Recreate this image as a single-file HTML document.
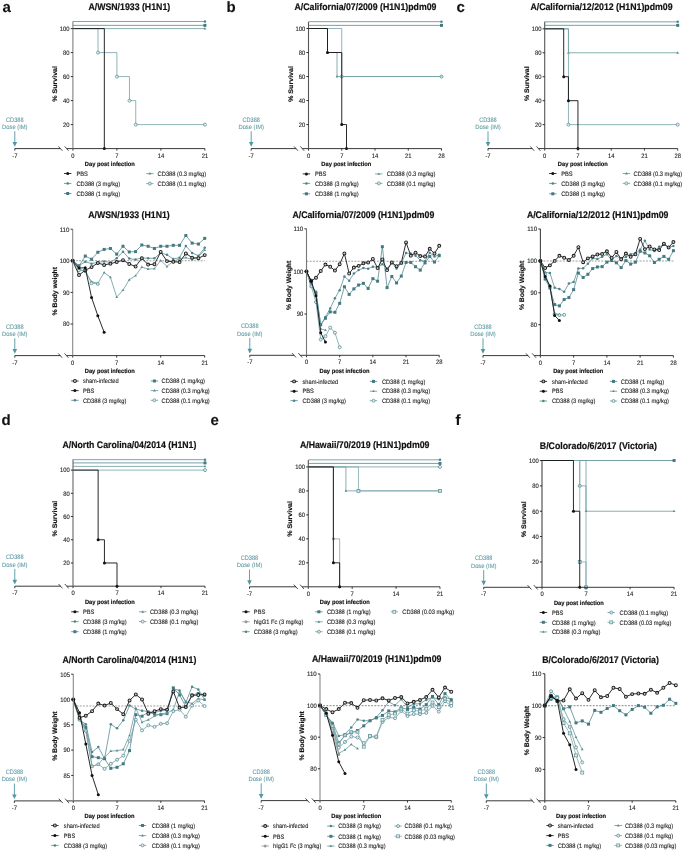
<!DOCTYPE html>
<html><head><meta charset="utf-8"><style>
html,body{margin:0;padding:0;background:#fff;}
svg{display:block;}
#w{width:685px;height:852px;overflow:hidden;will-change:transform;}
text{font-family:"Liberation Sans", sans-serif;text-rendering:geometricPrecision;}
</style></head><body><div id="w">
<svg width="685" height="852" viewBox="0 0 685 852">
<rect width="685" height="852" fill="#fff"/>
<text x="2.6" y="12.4" font-size="15" font-weight="bold" text-anchor="start" fill="#111" stroke="#111" stroke-width="0.12">a</text>
<text x="226.6" y="12.3" font-size="15" font-weight="bold" text-anchor="start" fill="#111" stroke="#111" stroke-width="0.12">b</text>
<text x="456.4" y="12.3" font-size="15" font-weight="bold" text-anchor="start" fill="#111" stroke="#111" stroke-width="0.12">c</text>
<text x="1.6" y="424.9" font-size="15" font-weight="bold" text-anchor="start" fill="#111" stroke="#111" stroke-width="0.12">d</text>
<text x="210.6" y="425.2" font-size="15" font-weight="bold" text-anchor="start" fill="#111" stroke="#111" stroke-width="0.12">e</text>
<text x="455.6" y="424.9" font-size="15" font-weight="bold" text-anchor="start" fill="#111" stroke="#111" stroke-width="0.12">f</text>
<text x="129.3" y="10.3" font-size="9.6" font-weight="bold" text-anchor="middle" fill="#111" textLength="81.8" lengthAdjust="spacingAndGlyphs" stroke="#111" stroke-width="0.2">A/WSN/1933 (H1N1)</text>
<path d="M72.9 21.52L204.91 21.52" stroke="#5b8f96" stroke-width="0.8" fill="none"/>
<circle cx="204.91" cy="21.52" r="1.25" fill="#4b848b"/>
<path d="M72.9 25.36L204.91 25.36" stroke="#568990" stroke-width="0.8" fill="none"/>
<rect x="203.41" y="23.86" width="3" height="3" fill="#437a81"/>
<path d="M72.9 28.6L204.91 28.6" stroke="#6a9aa0" stroke-width="0.8" fill="none"/>
<path d="M204.91 27.1L206.26 29.5L203.56 29.5Z" fill="#578d94"/>
<path d="M72.9 28.6L98.04 28.6L98.04 52.6L116.9 52.6L116.9 76.6L129.47 76.6L129.47 100.6L135.76 100.6L135.76 124.6L204.91 124.6" stroke="#74a2a8" stroke-width="0.8" fill="none"/>
<circle cx="98.04" cy="52.6" r="1.5" fill="#fff" fill-opacity="0.6" stroke="#5f9299" stroke-width="0.85"/>
<circle cx="116.9" cy="76.6" r="1.5" fill="#fff" fill-opacity="0.6" stroke="#5f9299" stroke-width="0.85"/>
<circle cx="129.47" cy="100.6" r="1.5" fill="#fff" fill-opacity="0.6" stroke="#5f9299" stroke-width="0.85"/>
<circle cx="135.76" cy="124.6" r="1.5" fill="#fff" fill-opacity="0.6" stroke="#5f9299" stroke-width="0.85"/>
<circle cx="204.91" cy="124.6" r="1.5" fill="#fff" fill-opacity="0.6" stroke="#5f9299" stroke-width="0.85"/>
<path d="M72.9 28.6L104.33 28.6L104.33 148.6" stroke="#111111" stroke-width="0.9" fill="none"/>
<circle cx="104.33" cy="148.6" r="1.5" fill="#111111"/>
<g stroke="#222" stroke-width="0.9" fill="none">
<path d="M14.8 148.6H60.6M66.7 148.6H204.91"/>
<path d="M58.4 146.4L62.4 150.8M64.7 146.4L68.6 150.8" stroke-width="0.8"/>
<path d="M14.8 148.6V150.6M72.9 148.6V150.6M116.9 148.6V150.6M160.9 148.6V150.6M204.91 148.6V150.6"/>
</g>
<path d="M72.9 148.6V21.5" stroke="#7d8283" stroke-width="1.1" fill="none"/>
<path d="M70.8 124.6H72.9M70.8 100.6H72.9M70.8 76.6H72.9M70.8 52.6H72.9M70.8 28.6H72.9" stroke="#222" stroke-width="0.95"/>
<text x="69.6" y="126.9" font-size="6.5" text-anchor="end" fill="#222" textLength="6.5" lengthAdjust="spacingAndGlyphs" stroke="#222" stroke-width="0.12">20</text>
<text x="69.6" y="102.9" font-size="6.5" text-anchor="end" fill="#222" textLength="6.5" lengthAdjust="spacingAndGlyphs" stroke="#222" stroke-width="0.12">40</text>
<text x="69.6" y="78.9" font-size="6.5" text-anchor="end" fill="#222" textLength="6.5" lengthAdjust="spacingAndGlyphs" stroke="#222" stroke-width="0.12">60</text>
<text x="69.6" y="54.9" font-size="6.5" text-anchor="end" fill="#222" textLength="6.5" lengthAdjust="spacingAndGlyphs" stroke="#222" stroke-width="0.12">80</text>
<text x="69.6" y="30.9" font-size="6.5" text-anchor="end" fill="#222" textLength="9.75" lengthAdjust="spacingAndGlyphs" stroke="#222" stroke-width="0.12">100</text>
<text x="14.8" y="157.6" font-size="6.5" text-anchor="middle" fill="#222" textLength="5.2" lengthAdjust="spacingAndGlyphs" stroke="#222" stroke-width="0.12">-7</text>
<text x="72.9" y="157.6" font-size="6.5" text-anchor="middle" fill="#222" textLength="3.25" lengthAdjust="spacingAndGlyphs" stroke="#222" stroke-width="0.12">0</text>
<text x="116.9" y="157.6" font-size="6.5" text-anchor="middle" fill="#222" textLength="3.25" lengthAdjust="spacingAndGlyphs" stroke="#222" stroke-width="0.12">7</text>
<text x="160.9" y="157.6" font-size="6.5" text-anchor="middle" fill="#222" textLength="6.5" lengthAdjust="spacingAndGlyphs" stroke="#222" stroke-width="0.12">14</text>
<text x="204.91" y="157.6" font-size="6.5" text-anchor="middle" fill="#222" textLength="6.5" lengthAdjust="spacingAndGlyphs" stroke="#222" stroke-width="0.12">21</text>
<text x="109.85" y="165.9" font-size="6.2" font-weight="bold" text-anchor="middle" fill="#111" textLength="50" lengthAdjust="spacingAndGlyphs" stroke="#111" stroke-width="0.16">Day post infection</text>
<text x="56.8" y="83.9" font-size="6.6" font-weight="bold" text-anchor="middle" fill="#111" textLength="35.9" lengthAdjust="spacingAndGlyphs" transform="rotate(-90 56.8 83.9)" stroke="#111" stroke-width="0.16">% Survival</text>
<text x="14.8" y="121.6" font-size="6.4" text-anchor="middle" fill="#5e9aa4" textLength="17.5" lengthAdjust="spacingAndGlyphs" stroke="#5e9aa4" stroke-width="0.08">CD388</text>
<text x="14.8" y="129" font-size="6.3" text-anchor="middle" fill="#5e9aa4" textLength="25.5" lengthAdjust="spacingAndGlyphs" stroke="#5e9aa4" stroke-width="0.08">Dose (IM)</text>
<path d="M14.8 131.3V143.6" stroke="#4f97a2" stroke-width="0.9"/>
<path d="M12.5 142.1L17.1 142.1L14.8 146.8Z" fill="#4f97a2"/>
<path d="M64 173.5H71.4" stroke="#111111" stroke-width="0.85"/>
<circle cx="67.7" cy="173.5" r="1.5" fill="#111111"/>
<text x="76.4" y="175.7" font-size="6.3" text-anchor="start" fill="#222" textLength="11.52" lengthAdjust="spacingAndGlyphs" stroke="#222" stroke-width="0.1">PBS</text>
<path d="M64 183.4H71.4" stroke="#5b8f96" stroke-width="0.85"/>
<circle cx="67.7" cy="183.4" r="1.25" fill="#4b848b"/>
<text x="76.4" y="185.6" font-size="6.3" text-anchor="start" fill="#222" textLength="43.78" lengthAdjust="spacingAndGlyphs" stroke="#222" stroke-width="0.1">CD388 (3 mg/kg)</text>
<path d="M64 193.5H71.4" stroke="#568990" stroke-width="0.85"/>
<rect x="66.2" y="192" width="3" height="3" fill="#437a81"/>
<text x="76.4" y="195.7" font-size="6.3" text-anchor="start" fill="#222" textLength="43.78" lengthAdjust="spacingAndGlyphs" stroke="#222" stroke-width="0.1">CD388 (1 mg/kg)</text>
<path d="M146.2 173.6H153.6" stroke="#6a9aa0" stroke-width="0.85"/>
<path d="M149.9 172.1L151.25 174.5L148.55 174.5Z" fill="#578d94"/>
<text x="157.6" y="175.8" font-size="6.3" text-anchor="start" fill="#222" textLength="48.58" lengthAdjust="spacingAndGlyphs" stroke="#222" stroke-width="0.1">CD388 (0.3 mg/kg)</text>
<path d="M146.2 183.6H153.6" stroke="#74a2a8" stroke-width="0.85"/>
<circle cx="149.9" cy="183.6" r="1.5" fill="#fff" fill-opacity="0.6" stroke="#5f9299" stroke-width="0.85"/>
<text x="157.6" y="185.8" font-size="6.3" text-anchor="start" fill="#222" textLength="48.58" lengthAdjust="spacingAndGlyphs" stroke="#222" stroke-width="0.1">CD388 (0.1 mg/kg)</text>
<text x="365.45" y="9.9" font-size="9.6" font-weight="bold" text-anchor="middle" fill="#111" textLength="141.9" lengthAdjust="spacingAndGlyphs" stroke="#111" stroke-width="0.2">A/California/07/2009 (H1N1)pdm09</text>
<path d="M308.5 21.65L441.5 21.65" stroke="#5b8f96" stroke-width="0.8" fill="none"/>
<circle cx="441.5" cy="21.65" r="1.25" fill="#4b848b"/>
<path d="M308.5 25.38L441.5 25.38" stroke="#568990" stroke-width="0.8" fill="none"/>
<rect x="440" y="23.88" width="3" height="3" fill="#437a81"/>
<path d="M308.5 28.5L327.5 28.5L327.5 52.52L337 52.52L337 76.54L441.5 76.54" stroke="#6a9aa0" stroke-width="0.8" fill="none"/>
<path d="M327.5 51.02L328.85 53.42L326.15 53.42Z" fill="#578d94"/>
<path d="M337 75.04L338.35 77.44L335.65 77.44Z" fill="#578d94"/>
<path d="M441.5 75.04L442.85 77.44L440.15 77.44Z" fill="#578d94"/>
<path d="M308.5 28.5L341.75 28.5L341.75 76.54L441.5 76.54" stroke="#74a2a8" stroke-width="0.8" fill="none"/>
<circle cx="341.75" cy="76.54" r="1.5" fill="#fff" fill-opacity="0.6" stroke="#5f9299" stroke-width="0.85"/>
<circle cx="441.5" cy="76.54" r="1.5" fill="#fff" fill-opacity="0.6" stroke="#5f9299" stroke-width="0.85"/>
<path d="M308.5 28.5L327.5 28.5L327.5 52.52L341.75 52.52L341.75 124.58L346.5 124.58L346.5 148.6" stroke="#111111" stroke-width="0.9" fill="none"/>
<circle cx="327.5" cy="52.52" r="1.5" fill="#111111"/>
<circle cx="341.75" cy="124.58" r="1.5" fill="#111111"/>
<circle cx="346.5" cy="148.6" r="1.5" fill="#111111"/>
<g stroke="#222" stroke-width="0.9" fill="none">
<path d="M251.2 148.6H296.2M302.3 148.6H441.5"/>
<path d="M294 146.4L298 150.8M300.3 146.4L304.2 150.8" stroke-width="0.8"/>
<path d="M251.2 148.6V150.6M308.5 148.6V150.6M341.75 148.6V150.6M375 148.6V150.6M408.25 148.6V150.6M441.5 148.6V150.6"/>
</g>
<path d="M308.5 148.6V21.9" stroke="#555" stroke-width="1.1" fill="none"/>
<path d="M306.4 124.58H308.5M306.4 100.56H308.5M306.4 76.54H308.5M306.4 52.52H308.5M306.4 28.5H308.5" stroke="#222" stroke-width="0.95"/>
<text x="305.2" y="126.88" font-size="6.5" text-anchor="end" fill="#222" textLength="6.5" lengthAdjust="spacingAndGlyphs" stroke="#222" stroke-width="0.12">20</text>
<text x="305.2" y="102.86" font-size="6.5" text-anchor="end" fill="#222" textLength="6.5" lengthAdjust="spacingAndGlyphs" stroke="#222" stroke-width="0.12">40</text>
<text x="305.2" y="78.84" font-size="6.5" text-anchor="end" fill="#222" textLength="6.5" lengthAdjust="spacingAndGlyphs" stroke="#222" stroke-width="0.12">60</text>
<text x="305.2" y="54.82" font-size="6.5" text-anchor="end" fill="#222" textLength="6.5" lengthAdjust="spacingAndGlyphs" stroke="#222" stroke-width="0.12">80</text>
<text x="305.2" y="30.8" font-size="6.5" text-anchor="end" fill="#222" textLength="9.75" lengthAdjust="spacingAndGlyphs" stroke="#222" stroke-width="0.12">100</text>
<text x="251.2" y="157.6" font-size="6.5" text-anchor="middle" fill="#222" textLength="5.2" lengthAdjust="spacingAndGlyphs" stroke="#222" stroke-width="0.12">-7</text>
<text x="308.5" y="157.6" font-size="6.5" text-anchor="middle" fill="#222" textLength="3.25" lengthAdjust="spacingAndGlyphs" stroke="#222" stroke-width="0.12">0</text>
<text x="341.75" y="157.6" font-size="6.5" text-anchor="middle" fill="#222" textLength="3.25" lengthAdjust="spacingAndGlyphs" stroke="#222" stroke-width="0.12">7</text>
<text x="375" y="157.6" font-size="6.5" text-anchor="middle" fill="#222" textLength="6.5" lengthAdjust="spacingAndGlyphs" stroke="#222" stroke-width="0.12">14</text>
<text x="408.25" y="157.6" font-size="6.5" text-anchor="middle" fill="#222" textLength="6.5" lengthAdjust="spacingAndGlyphs" stroke="#222" stroke-width="0.12">21</text>
<text x="441.5" y="157.6" font-size="6.5" text-anchor="middle" fill="#222" textLength="6.5" lengthAdjust="spacingAndGlyphs" stroke="#222" stroke-width="0.12">28</text>
<text x="346.35" y="165.9" font-size="6.2" font-weight="bold" text-anchor="middle" fill="#111" textLength="50" lengthAdjust="spacingAndGlyphs" stroke="#111" stroke-width="0.16">Day post infection</text>
<text x="292.5" y="84" font-size="6.6" font-weight="bold" text-anchor="middle" fill="#111" textLength="36.1" lengthAdjust="spacingAndGlyphs" transform="rotate(-90 292.5 84)" stroke="#111" stroke-width="0.16">% Survival</text>
<text x="251.2" y="121.6" font-size="6.4" text-anchor="middle" fill="#5e9aa4" textLength="17.5" lengthAdjust="spacingAndGlyphs" stroke="#5e9aa4" stroke-width="0.08">CD388</text>
<text x="251.2" y="129" font-size="6.3" text-anchor="middle" fill="#5e9aa4" textLength="25.5" lengthAdjust="spacingAndGlyphs" stroke="#5e9aa4" stroke-width="0.08">Dose (IM)</text>
<path d="M251.2 131.3V143.6" stroke="#4f97a2" stroke-width="0.9"/>
<path d="M248.9 142.1L253.5 142.1L251.2 146.8Z" fill="#4f97a2"/>
<path d="M302.7 173.9H310.1" stroke="#111111" stroke-width="0.85"/>
<circle cx="306.4" cy="173.9" r="1.5" fill="#111111"/>
<text x="314.9" y="176.1" font-size="6.3" text-anchor="start" fill="#222" textLength="11.52" lengthAdjust="spacingAndGlyphs" stroke="#222" stroke-width="0.1">PBS</text>
<path d="M302.7 183.4H310.1" stroke="#5b8f96" stroke-width="0.85"/>
<circle cx="306.4" cy="183.4" r="1.25" fill="#4b848b"/>
<text x="314.9" y="185.6" font-size="6.3" text-anchor="start" fill="#222" textLength="43.78" lengthAdjust="spacingAndGlyphs" stroke="#222" stroke-width="0.1">CD388 (3 mg/kg)</text>
<path d="M302.7 193.8H310.1" stroke="#568990" stroke-width="0.85"/>
<rect x="304.9" y="192.3" width="3" height="3" fill="#437a81"/>
<text x="314.9" y="196" font-size="6.3" text-anchor="start" fill="#222" textLength="43.78" lengthAdjust="spacingAndGlyphs" stroke="#222" stroke-width="0.1">CD388 (1 mg/kg)</text>
<path d="M375.1 173.9H382.5" stroke="#6a9aa0" stroke-width="0.85"/>
<path d="M378.8 172.4L380.15 174.8L377.45 174.8Z" fill="#578d94"/>
<text x="386.8" y="176.1" font-size="6.3" text-anchor="start" fill="#222" textLength="48.58" lengthAdjust="spacingAndGlyphs" stroke="#222" stroke-width="0.1">CD388 (0.3 mg/kg)</text>
<path d="M375.1 183.4H382.5" stroke="#74a2a8" stroke-width="0.85"/>
<circle cx="378.8" cy="183.4" r="1.5" fill="#fff" fill-opacity="0.6" stroke="#5f9299" stroke-width="0.85"/>
<text x="386.8" y="185.6" font-size="6.3" text-anchor="start" fill="#222" textLength="48.58" lengthAdjust="spacingAndGlyphs" stroke="#222" stroke-width="0.1">CD388 (0.1 mg/kg)</text>
<text x="601.5" y="9.9" font-size="9.6" font-weight="bold" text-anchor="middle" fill="#111" textLength="142.2" lengthAdjust="spacingAndGlyphs" stroke="#111" stroke-width="0.2">A/California/12/2012 (H1N1)pdm09</text>
<path d="M544.7 21.85L677.7 21.85" stroke="#5b8f96" stroke-width="0.8" fill="none"/>
<circle cx="677.7" cy="21.85" r="1.25" fill="#4b848b"/>
<path d="M544.7 25.33L677.7 25.33" stroke="#568990" stroke-width="0.8" fill="none"/>
<rect x="676.2" y="23.83" width="3" height="3" fill="#437a81"/>
<path d="M544.7 28.8L568.45 28.8L568.45 52.76L677.7 52.76" stroke="#6a9aa0" stroke-width="0.8" fill="none"/>
<path d="M568.45 51.26L569.8 53.66L567.1 53.66Z" fill="#578d94"/>
<path d="M677.7 51.26L679.05 53.66L676.35 53.66Z" fill="#578d94"/>
<path d="M544.7 28.8L568.45 28.8L568.45 124.64L677.7 124.64" stroke="#74a2a8" stroke-width="0.8" fill="none"/>
<circle cx="568.45" cy="124.64" r="1.5" fill="#fff" fill-opacity="0.6" stroke="#5f9299" stroke-width="0.85"/>
<circle cx="677.7" cy="124.64" r="1.5" fill="#fff" fill-opacity="0.6" stroke="#5f9299" stroke-width="0.85"/>
<path d="M544.7 28.8L563.7 28.8L563.7 76.72L568.45 76.72L568.45 100.68L577.95 100.68L577.95 148.6" stroke="#111111" stroke-width="0.9" fill="none"/>
<circle cx="563.7" cy="76.72" r="1.5" fill="#111111"/>
<circle cx="568.45" cy="100.68" r="1.5" fill="#111111"/>
<circle cx="577.95" cy="148.6" r="1.5" fill="#111111"/>
<g stroke="#222" stroke-width="0.9" fill="none">
<path d="M488 148.6H532.4M538.5 148.6H677.7"/>
<path d="M530.2 146.4L534.2 150.8M536.5 146.4L540.4 150.8" stroke-width="0.8"/>
<path d="M488 148.6V150.6M544.7 148.6V150.6M577.95 148.6V150.6M611.2 148.6V150.6M644.45 148.6V150.6M677.7 148.6V150.6"/>
</g>
<path d="M544.7 148.6V21.8" stroke="#555" stroke-width="1.1" fill="none"/>
<path d="M542.6 124.64H544.7M542.6 100.68H544.7M542.6 76.72H544.7M542.6 52.76H544.7M542.6 28.8H544.7" stroke="#222" stroke-width="0.95"/>
<text x="541.4" y="126.94" font-size="6.5" text-anchor="end" fill="#222" textLength="6.5" lengthAdjust="spacingAndGlyphs" stroke="#222" stroke-width="0.12">20</text>
<text x="541.4" y="102.98" font-size="6.5" text-anchor="end" fill="#222" textLength="6.5" lengthAdjust="spacingAndGlyphs" stroke="#222" stroke-width="0.12">40</text>
<text x="541.4" y="79.02" font-size="6.5" text-anchor="end" fill="#222" textLength="6.5" lengthAdjust="spacingAndGlyphs" stroke="#222" stroke-width="0.12">60</text>
<text x="541.4" y="55.06" font-size="6.5" text-anchor="end" fill="#222" textLength="6.5" lengthAdjust="spacingAndGlyphs" stroke="#222" stroke-width="0.12">80</text>
<text x="541.4" y="31.1" font-size="6.5" text-anchor="end" fill="#222" textLength="9.75" lengthAdjust="spacingAndGlyphs" stroke="#222" stroke-width="0.12">100</text>
<text x="488" y="157.6" font-size="6.5" text-anchor="middle" fill="#222" textLength="5.2" lengthAdjust="spacingAndGlyphs" stroke="#222" stroke-width="0.12">-7</text>
<text x="544.7" y="157.6" font-size="6.5" text-anchor="middle" fill="#222" textLength="3.25" lengthAdjust="spacingAndGlyphs" stroke="#222" stroke-width="0.12">0</text>
<text x="577.95" y="157.6" font-size="6.5" text-anchor="middle" fill="#222" textLength="3.25" lengthAdjust="spacingAndGlyphs" stroke="#222" stroke-width="0.12">7</text>
<text x="611.2" y="157.6" font-size="6.5" text-anchor="middle" fill="#222" textLength="6.5" lengthAdjust="spacingAndGlyphs" stroke="#222" stroke-width="0.12">14</text>
<text x="644.45" y="157.6" font-size="6.5" text-anchor="middle" fill="#222" textLength="6.5" lengthAdjust="spacingAndGlyphs" stroke="#222" stroke-width="0.12">21</text>
<text x="677.7" y="157.6" font-size="6.5" text-anchor="middle" fill="#222" textLength="6.5" lengthAdjust="spacingAndGlyphs" stroke="#222" stroke-width="0.12">28</text>
<text x="582.85" y="165.9" font-size="6.2" font-weight="bold" text-anchor="middle" fill="#111" textLength="50" lengthAdjust="spacingAndGlyphs" stroke="#111" stroke-width="0.16">Day post infection</text>
<text x="529" y="83.7" font-size="6.6" font-weight="bold" text-anchor="middle" fill="#111" textLength="34.5" lengthAdjust="spacingAndGlyphs" transform="rotate(-90 529 83.7)" stroke="#111" stroke-width="0.16">% Survival</text>
<text x="488" y="121.6" font-size="6.4" text-anchor="middle" fill="#5e9aa4" textLength="17.5" lengthAdjust="spacingAndGlyphs" stroke="#5e9aa4" stroke-width="0.08">CD388</text>
<text x="488" y="129" font-size="6.3" text-anchor="middle" fill="#5e9aa4" textLength="25.5" lengthAdjust="spacingAndGlyphs" stroke="#5e9aa4" stroke-width="0.08">Dose (IM)</text>
<path d="M488 131.3V143.6" stroke="#4f97a2" stroke-width="0.9"/>
<path d="M485.7 142.1L490.3 142.1L488 146.8Z" fill="#4f97a2"/>
<path d="M549.1 173.5H556.5" stroke="#111111" stroke-width="0.85"/>
<circle cx="552.8" cy="173.5" r="1.5" fill="#111111"/>
<text x="561.2" y="175.7" font-size="6.3" text-anchor="start" fill="#222" textLength="11.52" lengthAdjust="spacingAndGlyphs" stroke="#222" stroke-width="0.1">PBS</text>
<path d="M549.1 183.4H556.5" stroke="#5b8f96" stroke-width="0.85"/>
<circle cx="552.8" cy="183.4" r="1.25" fill="#4b848b"/>
<text x="561.2" y="185.6" font-size="6.3" text-anchor="start" fill="#222" textLength="43.78" lengthAdjust="spacingAndGlyphs" stroke="#222" stroke-width="0.1">CD388 (3 mg/kg)</text>
<path d="M549.1 193.8H556.5" stroke="#568990" stroke-width="0.85"/>
<rect x="551.3" y="192.3" width="3" height="3" fill="#437a81"/>
<text x="561.2" y="196" font-size="6.3" text-anchor="start" fill="#222" textLength="43.78" lengthAdjust="spacingAndGlyphs" stroke="#222" stroke-width="0.1">CD388 (1 mg/kg)</text>
<path d="M622.7 173.5H630.1" stroke="#6a9aa0" stroke-width="0.85"/>
<path d="M626.4 172L627.75 174.4L625.05 174.4Z" fill="#578d94"/>
<text x="633.6" y="175.7" font-size="6.3" text-anchor="start" fill="#222" textLength="48.58" lengthAdjust="spacingAndGlyphs" stroke="#222" stroke-width="0.1">CD388 (0.3 mg/kg)</text>
<path d="M622.7 183.4H630.1" stroke="#74a2a8" stroke-width="0.85"/>
<circle cx="626.4" cy="183.4" r="1.5" fill="#fff" fill-opacity="0.6" stroke="#5f9299" stroke-width="0.85"/>
<text x="633.6" y="185.6" font-size="6.3" text-anchor="start" fill="#222" textLength="48.58" lengthAdjust="spacingAndGlyphs" stroke="#222" stroke-width="0.1">CD388 (0.1 mg/kg)</text>
<text x="129" y="218" font-size="9.6" font-weight="bold" text-anchor="middle" fill="#111" textLength="81.6" lengthAdjust="spacingAndGlyphs" stroke="#111" stroke-width="0.2">A/WSN/1933 (H1N1)</text>
<path d="M72.7 260.8H204.71" stroke="#a29c9c" stroke-width="1.05" stroke-dasharray="1.9 1.3" fill="none"/>
<path d="M72.7 260.8L78.99 265.54L85.27 261.75L91.56 263.64L97.84 262.38L104.13 261.43L110.42 262.38L116.7 258.27L122.99 251.64L129.27 258.59L135.56 259.54L141.85 257.96L148.13 258.27L154.42 258.27L160.7 252.9L166.99 254.8L173.28 258.9L179.56 257.64L185.85 245.95L192.13 252.9L198.42 255.74L204.71 247.84" stroke="#5b8f96" stroke-width="0.8" fill="none" stroke-linejoin="round"/>
<circle cx="72.7" cy="260.8" r="1.25" fill="#4b848b"/>
<circle cx="78.99" cy="265.54" r="1.25" fill="#4b848b"/>
<circle cx="85.27" cy="261.75" r="1.25" fill="#4b848b"/>
<circle cx="91.56" cy="263.64" r="1.25" fill="#4b848b"/>
<circle cx="97.84" cy="262.38" r="1.25" fill="#4b848b"/>
<circle cx="104.13" cy="261.43" r="1.25" fill="#4b848b"/>
<circle cx="110.42" cy="262.38" r="1.25" fill="#4b848b"/>
<circle cx="116.7" cy="258.27" r="1.25" fill="#4b848b"/>
<circle cx="122.99" cy="251.64" r="1.25" fill="#4b848b"/>
<circle cx="129.27" cy="258.59" r="1.25" fill="#4b848b"/>
<circle cx="135.56" cy="259.54" r="1.25" fill="#4b848b"/>
<circle cx="141.85" cy="257.96" r="1.25" fill="#4b848b"/>
<circle cx="148.13" cy="258.27" r="1.25" fill="#4b848b"/>
<circle cx="154.42" cy="258.27" r="1.25" fill="#4b848b"/>
<circle cx="160.7" cy="252.9" r="1.25" fill="#4b848b"/>
<circle cx="166.99" cy="254.8" r="1.25" fill="#4b848b"/>
<circle cx="173.28" cy="258.9" r="1.25" fill="#4b848b"/>
<circle cx="179.56" cy="257.64" r="1.25" fill="#4b848b"/>
<circle cx="185.85" cy="245.95" r="1.25" fill="#4b848b"/>
<circle cx="192.13" cy="252.9" r="1.25" fill="#4b848b"/>
<circle cx="198.42" cy="255.74" r="1.25" fill="#4b848b"/>
<circle cx="204.71" cy="247.84" r="1.25" fill="#4b848b"/>
<path d="M72.7 260.8L78.99 266.17L85.27 256.06L91.56 259.22L97.84 252.27L104.13 249.42L110.42 248.48L116.7 254.16L122.99 246.26L129.27 251.95L135.56 251.64L141.85 245L148.13 246.26L154.42 248.48L160.7 246.26L166.99 246.26L173.28 245.32L179.56 245.32L185.85 235.52L192.13 243.1L198.42 244.05L204.71 238.36" stroke="#568990" stroke-width="0.8" fill="none" stroke-linejoin="round"/>
<rect x="71.2" y="259.3" width="3" height="3" fill="#437a81"/>
<rect x="77.49" y="264.67" width="3" height="3" fill="#437a81"/>
<rect x="83.77" y="254.56" width="3" height="3" fill="#437a81"/>
<rect x="90.06" y="257.72" width="3" height="3" fill="#437a81"/>
<rect x="96.34" y="250.77" width="3" height="3" fill="#437a81"/>
<rect x="102.63" y="247.92" width="3" height="3" fill="#437a81"/>
<rect x="108.92" y="246.98" width="3" height="3" fill="#437a81"/>
<rect x="115.2" y="252.66" width="3" height="3" fill="#437a81"/>
<rect x="121.49" y="244.76" width="3" height="3" fill="#437a81"/>
<rect x="127.77" y="250.45" width="3" height="3" fill="#437a81"/>
<rect x="134.06" y="250.14" width="3" height="3" fill="#437a81"/>
<rect x="140.35" y="243.5" width="3" height="3" fill="#437a81"/>
<rect x="146.63" y="244.76" width="3" height="3" fill="#437a81"/>
<rect x="152.92" y="246.98" width="3" height="3" fill="#437a81"/>
<rect x="159.2" y="244.76" width="3" height="3" fill="#437a81"/>
<rect x="165.49" y="244.76" width="3" height="3" fill="#437a81"/>
<rect x="171.78" y="243.82" width="3" height="3" fill="#437a81"/>
<rect x="178.06" y="243.82" width="3" height="3" fill="#437a81"/>
<rect x="184.35" y="234.02" width="3" height="3" fill="#437a81"/>
<rect x="190.63" y="241.6" width="3" height="3" fill="#437a81"/>
<rect x="196.92" y="242.55" width="3" height="3" fill="#437a81"/>
<rect x="203.21" y="236.86" width="3" height="3" fill="#437a81"/>
<path d="M72.7 260.8L78.99 268.7L85.27 272.18L91.56 281.66L97.84 283.24L104.13 272.49L110.42 277.23L116.7 297.14L122.99 290.19L129.27 279.76L135.56 275.65L141.85 267.12L148.13 269.02L154.42 268.7L160.7 260.48L166.99 266.49L173.28 261.12L179.56 258.9L185.85 257.64L192.13 259.54L198.42 256.69L204.71 250.06" stroke="#6a9aa0" stroke-width="0.8" fill="none" stroke-linejoin="round"/>
<path d="M72.7 259.3L74.05 261.7L71.35 261.7Z" fill="#578d94"/>
<path d="M78.99 267.2L80.34 269.6L77.64 269.6Z" fill="#578d94"/>
<path d="M85.27 270.68L86.62 273.08L83.92 273.08Z" fill="#578d94"/>
<path d="M91.56 280.16L92.91 282.56L90.21 282.56Z" fill="#578d94"/>
<path d="M97.84 281.74L99.19 284.14L96.49 284.14Z" fill="#578d94"/>
<path d="M104.13 270.99L105.48 273.39L102.78 273.39Z" fill="#578d94"/>
<path d="M110.42 275.73L111.77 278.13L109.07 278.13Z" fill="#578d94"/>
<path d="M116.7 295.64L118.05 298.04L115.35 298.04Z" fill="#578d94"/>
<path d="M122.99 288.69L124.34 291.09L121.64 291.09Z" fill="#578d94"/>
<path d="M129.27 278.26L130.62 280.66L127.92 280.66Z" fill="#578d94"/>
<path d="M135.56 274.15L136.91 276.55L134.21 276.55Z" fill="#578d94"/>
<path d="M141.85 265.62L143.2 268.02L140.5 268.02Z" fill="#578d94"/>
<path d="M148.13 267.52L149.48 269.92L146.78 269.92Z" fill="#578d94"/>
<path d="M154.42 267.2L155.77 269.6L153.07 269.6Z" fill="#578d94"/>
<path d="M160.7 258.98L162.05 261.38L159.35 261.38Z" fill="#578d94"/>
<path d="M166.99 264.99L168.34 267.39L165.64 267.39Z" fill="#578d94"/>
<path d="M173.28 259.62L174.63 262.02L171.93 262.02Z" fill="#578d94"/>
<path d="M179.56 257.4L180.91 259.8L178.21 259.8Z" fill="#578d94"/>
<path d="M185.85 256.14L187.2 258.54L184.5 258.54Z" fill="#578d94"/>
<path d="M192.13 258.04L193.48 260.44L190.78 260.44Z" fill="#578d94"/>
<path d="M198.42 255.19L199.77 257.59L197.07 257.59Z" fill="#578d94"/>
<path d="M204.71 248.56L206.06 250.96L203.36 250.96Z" fill="#578d94"/>
<path d="M72.7 260.8L78.99 270.28L85.27 270.28L91.56 283.24L97.84 283.87" stroke="#74a2a8" stroke-width="0.8" fill="none" stroke-linejoin="round"/>
<circle cx="72.7" cy="260.8" r="1.5" fill="#fff" fill-opacity="0.6" stroke="#5f9299" stroke-width="0.85"/>
<circle cx="78.99" cy="270.28" r="1.5" fill="#fff" fill-opacity="0.6" stroke="#5f9299" stroke-width="0.85"/>
<circle cx="85.27" cy="270.28" r="1.5" fill="#fff" fill-opacity="0.6" stroke="#5f9299" stroke-width="0.85"/>
<circle cx="91.56" cy="283.24" r="1.5" fill="#fff" fill-opacity="0.6" stroke="#5f9299" stroke-width="0.85"/>
<circle cx="97.84" cy="283.87" r="1.5" fill="#fff" fill-opacity="0.6" stroke="#5f9299" stroke-width="0.85"/>
<path d="M72.7 260.8L78.99 275.02L85.27 270.28L91.56 267.12L97.84 263.01L104.13 264.91L110.42 263.64L116.7 262.06L122.99 260.17L129.27 263.96L135.56 266.49L141.85 258.27L148.13 264.59L154.42 264.28L160.7 251.95L166.99 261.12L173.28 261.75L179.56 262.06L185.85 253.53L192.13 257.64L198.42 258.27L204.71 255.11" stroke="#222222" stroke-width="0.95" fill="none" stroke-linejoin="round"/>
<circle cx="72.7" cy="260.8" r="1.45" fill="#fff" fill-opacity="0.6" stroke="#222222" stroke-width="1.05"/>
<circle cx="78.99" cy="275.02" r="1.45" fill="#fff" fill-opacity="0.6" stroke="#222222" stroke-width="1.05"/>
<circle cx="85.27" cy="270.28" r="1.45" fill="#fff" fill-opacity="0.6" stroke="#222222" stroke-width="1.05"/>
<circle cx="91.56" cy="267.12" r="1.45" fill="#fff" fill-opacity="0.6" stroke="#222222" stroke-width="1.05"/>
<circle cx="97.84" cy="263.01" r="1.45" fill="#fff" fill-opacity="0.6" stroke="#222222" stroke-width="1.05"/>
<circle cx="104.13" cy="264.91" r="1.45" fill="#fff" fill-opacity="0.6" stroke="#222222" stroke-width="1.05"/>
<circle cx="110.42" cy="263.64" r="1.45" fill="#fff" fill-opacity="0.6" stroke="#222222" stroke-width="1.05"/>
<circle cx="116.7" cy="262.06" r="1.45" fill="#fff" fill-opacity="0.6" stroke="#222222" stroke-width="1.05"/>
<circle cx="122.99" cy="260.17" r="1.45" fill="#fff" fill-opacity="0.6" stroke="#222222" stroke-width="1.05"/>
<circle cx="129.27" cy="263.96" r="1.45" fill="#fff" fill-opacity="0.6" stroke="#222222" stroke-width="1.05"/>
<circle cx="135.56" cy="266.49" r="1.45" fill="#fff" fill-opacity="0.6" stroke="#222222" stroke-width="1.05"/>
<circle cx="141.85" cy="258.27" r="1.45" fill="#fff" fill-opacity="0.6" stroke="#222222" stroke-width="1.05"/>
<circle cx="148.13" cy="264.59" r="1.45" fill="#fff" fill-opacity="0.6" stroke="#222222" stroke-width="1.05"/>
<circle cx="154.42" cy="264.28" r="1.45" fill="#fff" fill-opacity="0.6" stroke="#222222" stroke-width="1.05"/>
<circle cx="160.7" cy="251.95" r="1.45" fill="#fff" fill-opacity="0.6" stroke="#222222" stroke-width="1.05"/>
<circle cx="166.99" cy="261.12" r="1.45" fill="#fff" fill-opacity="0.6" stroke="#222222" stroke-width="1.05"/>
<circle cx="173.28" cy="261.75" r="1.45" fill="#fff" fill-opacity="0.6" stroke="#222222" stroke-width="1.05"/>
<circle cx="179.56" cy="262.06" r="1.45" fill="#fff" fill-opacity="0.6" stroke="#222222" stroke-width="1.05"/>
<circle cx="185.85" cy="253.53" r="1.45" fill="#fff" fill-opacity="0.6" stroke="#222222" stroke-width="1.05"/>
<circle cx="192.13" cy="257.64" r="1.45" fill="#fff" fill-opacity="0.6" stroke="#222222" stroke-width="1.05"/>
<circle cx="198.42" cy="258.27" r="1.45" fill="#fff" fill-opacity="0.6" stroke="#222222" stroke-width="1.05"/>
<circle cx="204.71" cy="255.11" r="1.45" fill="#fff" fill-opacity="0.6" stroke="#222222" stroke-width="1.05"/>
<path d="M72.7 260.8L78.99 268.07L85.27 267.75L91.56 297.46L97.84 315.78L104.13 332.22" stroke="#111111" stroke-width="0.9" fill="none" stroke-linejoin="round"/>
<circle cx="72.7" cy="260.8" r="1.5" fill="#111111"/>
<circle cx="78.99" cy="268.07" r="1.5" fill="#111111"/>
<circle cx="85.27" cy="267.75" r="1.5" fill="#111111"/>
<circle cx="91.56" cy="297.46" r="1.5" fill="#111111"/>
<circle cx="97.84" cy="315.78" r="1.5" fill="#111111"/>
<circle cx="104.13" cy="332.22" r="1.5" fill="#111111"/>
<g stroke="#222" stroke-width="0.9" fill="none">
<path d="M14.8 355.6H60.4M66.5 355.6H204.71"/>
<path d="M58.2 353.4L62.2 357.8M64.5 353.4L68.4 357.8" stroke-width="0.8"/>
<path d="M14.8 355.6V357.6M72.7 355.6V357.6M116.7 355.6V357.6M160.7 355.6V357.6M204.71 355.6V357.6"/>
</g>
<path d="M72.7 355.6V229.2" stroke="#888" stroke-width="1.1" fill="none"/>
<path d="M70.6 324H72.7M70.6 292.4H72.7M70.6 260.8H72.7M70.6 229.2H72.7" stroke="#222" stroke-width="0.95"/>
<text x="69.4" y="326.3" font-size="6.5" text-anchor="end" fill="#222" textLength="6.5" lengthAdjust="spacingAndGlyphs" stroke="#222" stroke-width="0.12">80</text>
<text x="69.4" y="294.7" font-size="6.5" text-anchor="end" fill="#222" textLength="6.5" lengthAdjust="spacingAndGlyphs" stroke="#222" stroke-width="0.12">90</text>
<text x="69.4" y="263.1" font-size="6.5" text-anchor="end" fill="#222" textLength="9.75" lengthAdjust="spacingAndGlyphs" stroke="#222" stroke-width="0.12">100</text>
<text x="69.4" y="231.5" font-size="6.5" text-anchor="end" fill="#222" textLength="9.75" lengthAdjust="spacingAndGlyphs" stroke="#222" stroke-width="0.12">110</text>
<text x="14.8" y="364.6" font-size="6.5" text-anchor="middle" fill="#222" textLength="5.2" lengthAdjust="spacingAndGlyphs" stroke="#222" stroke-width="0.12">-7</text>
<text x="72.7" y="364.6" font-size="6.5" text-anchor="middle" fill="#222" textLength="3.25" lengthAdjust="spacingAndGlyphs" stroke="#222" stroke-width="0.12">0</text>
<text x="116.7" y="364.6" font-size="6.5" text-anchor="middle" fill="#222" textLength="3.25" lengthAdjust="spacingAndGlyphs" stroke="#222" stroke-width="0.12">7</text>
<text x="160.7" y="364.6" font-size="6.5" text-anchor="middle" fill="#222" textLength="6.5" lengthAdjust="spacingAndGlyphs" stroke="#222" stroke-width="0.12">14</text>
<text x="204.71" y="364.6" font-size="6.5" text-anchor="middle" fill="#222" textLength="6.5" lengthAdjust="spacingAndGlyphs" stroke="#222" stroke-width="0.12">21</text>
<text x="109.75" y="372.9" font-size="6.2" font-weight="bold" text-anchor="middle" fill="#111" textLength="50" lengthAdjust="spacingAndGlyphs" stroke="#111" stroke-width="0.16">Day post infection</text>
<text x="57" y="291.2" font-size="6.6" font-weight="bold" text-anchor="middle" fill="#111" textLength="48.5" lengthAdjust="spacingAndGlyphs" transform="rotate(-90 57 291.2)" stroke="#111" stroke-width="0.16">% Body weight</text>
<text x="14.8" y="328.6" font-size="6.4" text-anchor="middle" fill="#5e9aa4" textLength="17.5" lengthAdjust="spacingAndGlyphs" stroke="#5e9aa4" stroke-width="0.08">CD388</text>
<text x="14.8" y="336" font-size="6.3" text-anchor="middle" fill="#5e9aa4" textLength="25.5" lengthAdjust="spacingAndGlyphs" stroke="#5e9aa4" stroke-width="0.08">Dose (IM)</text>
<path d="M14.8 338.3V350.6" stroke="#4f97a2" stroke-width="0.9"/>
<path d="M12.5 349.1L17.1 349.1L14.8 353.8Z" fill="#4f97a2"/>
<path d="M71.2 381H78.6" stroke="#222222" stroke-width="0.85"/>
<circle cx="74.9" cy="381" r="1.45" fill="#fff" fill-opacity="0.6" stroke="#222222" stroke-width="1.05"/>
<text x="82.9" y="383.2" font-size="6.3" text-anchor="start" fill="#222" textLength="35.8" lengthAdjust="spacingAndGlyphs" stroke="#222" stroke-width="0.1">sham-infected</text>
<path d="M71.2 390.6H78.6" stroke="#111111" stroke-width="0.85"/>
<circle cx="74.9" cy="390.6" r="1.5" fill="#111111"/>
<text x="82.9" y="392.8" font-size="6.3" text-anchor="start" fill="#222" textLength="11.42" lengthAdjust="spacingAndGlyphs" stroke="#222" stroke-width="0.1">PBS</text>
<path d="M71.2 400.3H78.6" stroke="#5b8f96" stroke-width="0.85"/>
<circle cx="74.9" cy="400.3" r="1.25" fill="#4b848b"/>
<text x="82.9" y="402.5" font-size="6.3" text-anchor="start" fill="#222" textLength="43.4" lengthAdjust="spacingAndGlyphs" stroke="#222" stroke-width="0.1">CD388 (3 mg/kg)</text>
<path d="M150.7 381H158.1" stroke="#568990" stroke-width="0.85"/>
<rect x="152.9" y="379.5" width="3" height="3" fill="#437a81"/>
<text x="161.6" y="383.2" font-size="6.3" text-anchor="start" fill="#222" textLength="43.4" lengthAdjust="spacingAndGlyphs" stroke="#222" stroke-width="0.1">CD388 (1 mg/kg)</text>
<path d="M150.7 390.6H158.1" stroke="#6a9aa0" stroke-width="0.85"/>
<path d="M154.4 389.1L155.75 391.5L153.05 391.5Z" fill="#578d94"/>
<text x="161.6" y="392.8" font-size="6.3" text-anchor="start" fill="#222" textLength="48.16" lengthAdjust="spacingAndGlyphs" stroke="#222" stroke-width="0.1">CD388 (0.3 mg/kg)</text>
<path d="M150.7 400.3H158.1" stroke="#74a2a8" stroke-width="0.85"/>
<circle cx="154.4" cy="400.3" r="1.5" fill="#fff" fill-opacity="0.6" stroke="#5f9299" stroke-width="0.85"/>
<text x="161.6" y="402.5" font-size="6.3" text-anchor="start" fill="#222" textLength="48.16" lengthAdjust="spacingAndGlyphs" stroke="#222" stroke-width="0.1">CD388 (0.1 mg/kg)</text>
<text x="363.35" y="218" font-size="9.6" font-weight="bold" text-anchor="middle" fill="#111" textLength="141.9" lengthAdjust="spacingAndGlyphs" stroke="#111" stroke-width="0.2">A/California/07/2009 (H1N1)pdm09</text>
<path d="M306.5 261.18H439.22" stroke="#a29c9c" stroke-width="1.05" stroke-dasharray="1.9 1.3" fill="none"/>
<path d="M306.5 271.4L311.24 285.88L315.98 291.85L320.72 325.08L325.46 316.98L330.2 308.46L334.94 298.24L339.68 290.14L344.42 276.51L349.16 280.77L353.9 273.53L358.64 270.12L363.38 267.99L368.12 268.84L372.86 266.71L377.6 267.14L382.34 264.16L387.08 268.42L391.82 262.88L396.56 268.42L401.3 262.88L406.04 253.08L410.78 253.51L415.52 255.64L420.26 260.32L425 261.18L429.74 252.66L434.48 256.49L439.22 254.79" stroke="#5b8f96" stroke-width="0.8" fill="none" stroke-linejoin="round"/>
<circle cx="306.5" cy="271.4" r="1.25" fill="#4b848b"/>
<circle cx="311.24" cy="285.88" r="1.25" fill="#4b848b"/>
<circle cx="315.98" cy="291.85" r="1.25" fill="#4b848b"/>
<circle cx="320.72" cy="325.08" r="1.25" fill="#4b848b"/>
<circle cx="325.46" cy="316.98" r="1.25" fill="#4b848b"/>
<circle cx="330.2" cy="308.46" r="1.25" fill="#4b848b"/>
<circle cx="334.94" cy="298.24" r="1.25" fill="#4b848b"/>
<circle cx="339.68" cy="290.14" r="1.25" fill="#4b848b"/>
<circle cx="344.42" cy="276.51" r="1.25" fill="#4b848b"/>
<circle cx="349.16" cy="280.77" r="1.25" fill="#4b848b"/>
<circle cx="353.9" cy="273.53" r="1.25" fill="#4b848b"/>
<circle cx="358.64" cy="270.12" r="1.25" fill="#4b848b"/>
<circle cx="363.38" cy="267.99" r="1.25" fill="#4b848b"/>
<circle cx="368.12" cy="268.84" r="1.25" fill="#4b848b"/>
<circle cx="372.86" cy="266.71" r="1.25" fill="#4b848b"/>
<circle cx="377.6" cy="267.14" r="1.25" fill="#4b848b"/>
<circle cx="382.34" cy="264.16" r="1.25" fill="#4b848b"/>
<circle cx="387.08" cy="268.42" r="1.25" fill="#4b848b"/>
<circle cx="391.82" cy="262.88" r="1.25" fill="#4b848b"/>
<circle cx="396.56" cy="268.42" r="1.25" fill="#4b848b"/>
<circle cx="401.3" cy="262.88" r="1.25" fill="#4b848b"/>
<circle cx="406.04" cy="253.08" r="1.25" fill="#4b848b"/>
<circle cx="410.78" cy="253.51" r="1.25" fill="#4b848b"/>
<circle cx="415.52" cy="255.64" r="1.25" fill="#4b848b"/>
<circle cx="420.26" cy="260.32" r="1.25" fill="#4b848b"/>
<circle cx="425" cy="261.18" r="1.25" fill="#4b848b"/>
<circle cx="429.74" cy="252.66" r="1.25" fill="#4b848b"/>
<circle cx="434.48" cy="256.49" r="1.25" fill="#4b848b"/>
<circle cx="439.22" cy="254.79" r="1.25" fill="#4b848b"/>
<path d="M306.5 271.4L311.24 283.75L315.98 293.13L320.72 324.65L325.46 318.26L330.2 311.87L334.94 312.3L339.68 303.35L344.42 286.74L349.16 294.4L353.9 288.87L358.64 285.03L363.38 283.33L368.12 288.44L372.86 278.64L377.6 281.2L382.34 246.69L387.08 287.59L391.82 276.51L396.56 282.9L401.3 276.09L406.04 262.45L410.78 262.45L415.52 266.71L420.26 270.12L425 262.88L429.74 256.49L434.48 262.03L439.22 255.64" stroke="#568990" stroke-width="0.8" fill="none" stroke-linejoin="round"/>
<rect x="305" y="269.9" width="3" height="3" fill="#437a81"/>
<rect x="309.74" y="282.25" width="3" height="3" fill="#437a81"/>
<rect x="314.48" y="291.63" width="3" height="3" fill="#437a81"/>
<rect x="319.22" y="323.15" width="3" height="3" fill="#437a81"/>
<rect x="323.96" y="316.76" width="3" height="3" fill="#437a81"/>
<rect x="328.7" y="310.37" width="3" height="3" fill="#437a81"/>
<rect x="333.44" y="310.8" width="3" height="3" fill="#437a81"/>
<rect x="338.18" y="301.85" width="3" height="3" fill="#437a81"/>
<rect x="342.92" y="285.24" width="3" height="3" fill="#437a81"/>
<rect x="347.66" y="292.9" width="3" height="3" fill="#437a81"/>
<rect x="352.4" y="287.37" width="3" height="3" fill="#437a81"/>
<rect x="357.14" y="283.53" width="3" height="3" fill="#437a81"/>
<rect x="361.88" y="281.83" width="3" height="3" fill="#437a81"/>
<rect x="366.62" y="286.94" width="3" height="3" fill="#437a81"/>
<rect x="371.36" y="277.14" width="3" height="3" fill="#437a81"/>
<rect x="376.1" y="279.7" width="3" height="3" fill="#437a81"/>
<rect x="380.84" y="245.19" width="3" height="3" fill="#437a81"/>
<rect x="385.58" y="286.09" width="3" height="3" fill="#437a81"/>
<rect x="390.32" y="275.01" width="3" height="3" fill="#437a81"/>
<rect x="395.06" y="281.4" width="3" height="3" fill="#437a81"/>
<rect x="399.8" y="274.59" width="3" height="3" fill="#437a81"/>
<rect x="404.54" y="260.95" width="3" height="3" fill="#437a81"/>
<rect x="409.28" y="260.95" width="3" height="3" fill="#437a81"/>
<rect x="414.02" y="265.21" width="3" height="3" fill="#437a81"/>
<rect x="418.76" y="268.62" width="3" height="3" fill="#437a81"/>
<rect x="423.5" y="261.38" width="3" height="3" fill="#437a81"/>
<rect x="428.24" y="254.99" width="3" height="3" fill="#437a81"/>
<rect x="432.98" y="260.53" width="3" height="3" fill="#437a81"/>
<rect x="437.72" y="254.14" width="3" height="3" fill="#437a81"/>
<path d="M306.5 271.4L311.24 285.03L315.98 294.83L320.72 328.91L325.46 330.19" stroke="#6a9aa0" stroke-width="0.8" fill="none" stroke-linejoin="round"/>
<path d="M306.5 269.9L307.85 272.3L305.15 272.3Z" fill="#578d94"/>
<path d="M311.24 283.53L312.59 285.93L309.89 285.93Z" fill="#578d94"/>
<path d="M315.98 293.33L317.33 295.73L314.63 295.73Z" fill="#578d94"/>
<path d="M320.72 327.41L322.07 329.81L319.37 329.81Z" fill="#578d94"/>
<path d="M325.46 328.69L326.81 331.09L324.11 331.09Z" fill="#578d94"/>
<path d="M306.5 271.4L311.24 286.31L315.98 302.07L320.72 339.56L325.46 336.15L330.2 327.63L334.94 332.74L339.68 347.23" stroke="#74a2a8" stroke-width="0.8" fill="none" stroke-linejoin="round"/>
<circle cx="306.5" cy="271.4" r="1.5" fill="#fff" fill-opacity="0.6" stroke="#5f9299" stroke-width="0.85"/>
<circle cx="311.24" cy="286.31" r="1.5" fill="#fff" fill-opacity="0.6" stroke="#5f9299" stroke-width="0.85"/>
<circle cx="315.98" cy="302.07" r="1.5" fill="#fff" fill-opacity="0.6" stroke="#5f9299" stroke-width="0.85"/>
<circle cx="320.72" cy="339.56" r="1.5" fill="#fff" fill-opacity="0.6" stroke="#5f9299" stroke-width="0.85"/>
<circle cx="325.46" cy="336.15" r="1.5" fill="#fff" fill-opacity="0.6" stroke="#5f9299" stroke-width="0.85"/>
<circle cx="330.2" cy="327.63" r="1.5" fill="#fff" fill-opacity="0.6" stroke="#5f9299" stroke-width="0.85"/>
<circle cx="334.94" cy="332.74" r="1.5" fill="#fff" fill-opacity="0.6" stroke="#5f9299" stroke-width="0.85"/>
<circle cx="339.68" cy="347.23" r="1.5" fill="#fff" fill-opacity="0.6" stroke="#5f9299" stroke-width="0.85"/>
<path d="M306.5 271.4L311.24 280.77L315.98 277.79L320.72 270.97L325.46 264.58L330.2 266.71L334.94 270.55L339.68 264.16L344.42 253.51L349.16 273.53L353.9 267.57L358.64 265.86L363.38 263.31L368.12 262.45L372.86 259.05L377.6 267.99L382.34 259.47L387.08 270.12L391.82 262.45L396.56 266.29L401.3 262.88L406.04 242.43L410.78 255.64L415.52 252.66L420.26 256.06L425 256.49L429.74 248.82L434.48 253.51L439.22 245.84" stroke="#222222" stroke-width="0.95" fill="none" stroke-linejoin="round"/>
<circle cx="306.5" cy="271.4" r="1.45" fill="#fff" fill-opacity="0.6" stroke="#222222" stroke-width="1.05"/>
<circle cx="311.24" cy="280.77" r="1.45" fill="#fff" fill-opacity="0.6" stroke="#222222" stroke-width="1.05"/>
<circle cx="315.98" cy="277.79" r="1.45" fill="#fff" fill-opacity="0.6" stroke="#222222" stroke-width="1.05"/>
<circle cx="320.72" cy="270.97" r="1.45" fill="#fff" fill-opacity="0.6" stroke="#222222" stroke-width="1.05"/>
<circle cx="325.46" cy="264.58" r="1.45" fill="#fff" fill-opacity="0.6" stroke="#222222" stroke-width="1.05"/>
<circle cx="330.2" cy="266.71" r="1.45" fill="#fff" fill-opacity="0.6" stroke="#222222" stroke-width="1.05"/>
<circle cx="334.94" cy="270.55" r="1.45" fill="#fff" fill-opacity="0.6" stroke="#222222" stroke-width="1.05"/>
<circle cx="339.68" cy="264.16" r="1.45" fill="#fff" fill-opacity="0.6" stroke="#222222" stroke-width="1.05"/>
<circle cx="344.42" cy="253.51" r="1.45" fill="#fff" fill-opacity="0.6" stroke="#222222" stroke-width="1.05"/>
<circle cx="349.16" cy="273.53" r="1.45" fill="#fff" fill-opacity="0.6" stroke="#222222" stroke-width="1.05"/>
<circle cx="353.9" cy="267.57" r="1.45" fill="#fff" fill-opacity="0.6" stroke="#222222" stroke-width="1.05"/>
<circle cx="358.64" cy="265.86" r="1.45" fill="#fff" fill-opacity="0.6" stroke="#222222" stroke-width="1.05"/>
<circle cx="363.38" cy="263.31" r="1.45" fill="#fff" fill-opacity="0.6" stroke="#222222" stroke-width="1.05"/>
<circle cx="368.12" cy="262.45" r="1.45" fill="#fff" fill-opacity="0.6" stroke="#222222" stroke-width="1.05"/>
<circle cx="372.86" cy="259.05" r="1.45" fill="#fff" fill-opacity="0.6" stroke="#222222" stroke-width="1.05"/>
<circle cx="377.6" cy="267.99" r="1.45" fill="#fff" fill-opacity="0.6" stroke="#222222" stroke-width="1.05"/>
<circle cx="382.34" cy="259.47" r="1.45" fill="#fff" fill-opacity="0.6" stroke="#222222" stroke-width="1.05"/>
<circle cx="387.08" cy="270.12" r="1.45" fill="#fff" fill-opacity="0.6" stroke="#222222" stroke-width="1.05"/>
<circle cx="391.82" cy="262.45" r="1.45" fill="#fff" fill-opacity="0.6" stroke="#222222" stroke-width="1.05"/>
<circle cx="396.56" cy="266.29" r="1.45" fill="#fff" fill-opacity="0.6" stroke="#222222" stroke-width="1.05"/>
<circle cx="401.3" cy="262.88" r="1.45" fill="#fff" fill-opacity="0.6" stroke="#222222" stroke-width="1.05"/>
<circle cx="406.04" cy="242.43" r="1.45" fill="#fff" fill-opacity="0.6" stroke="#222222" stroke-width="1.05"/>
<circle cx="410.78" cy="255.64" r="1.45" fill="#fff" fill-opacity="0.6" stroke="#222222" stroke-width="1.05"/>
<circle cx="415.52" cy="252.66" r="1.45" fill="#fff" fill-opacity="0.6" stroke="#222222" stroke-width="1.05"/>
<circle cx="420.26" cy="256.06" r="1.45" fill="#fff" fill-opacity="0.6" stroke="#222222" stroke-width="1.05"/>
<circle cx="425" cy="256.49" r="1.45" fill="#fff" fill-opacity="0.6" stroke="#222222" stroke-width="1.05"/>
<circle cx="429.74" cy="248.82" r="1.45" fill="#fff" fill-opacity="0.6" stroke="#222222" stroke-width="1.05"/>
<circle cx="434.48" cy="253.51" r="1.45" fill="#fff" fill-opacity="0.6" stroke="#222222" stroke-width="1.05"/>
<circle cx="439.22" cy="245.84" r="1.45" fill="#fff" fill-opacity="0.6" stroke="#222222" stroke-width="1.05"/>
<path d="M306.5 271.4L311.24 281.2L315.98 295.68L320.72 332.74L325.46 342.12" stroke="#111111" stroke-width="0.9" fill="none" stroke-linejoin="round"/>
<circle cx="306.5" cy="271.4" r="1.5" fill="#111111"/>
<circle cx="311.24" cy="281.2" r="1.5" fill="#111111"/>
<circle cx="315.98" cy="295.68" r="1.5" fill="#111111"/>
<circle cx="320.72" cy="332.74" r="1.5" fill="#111111"/>
<circle cx="325.46" cy="342.12" r="1.5" fill="#111111"/>
<g stroke="#222" stroke-width="0.9" fill="none">
<path d="M249.8 355.3H294.2M300.3 355.3H439.22"/>
<path d="M292 353.1L296 357.5M298.3 353.1L302.2 357.5" stroke-width="0.8"/>
<path d="M249.8 355.3V357.3M306.5 355.3V357.3M339.68 355.3V357.3M372.86 355.3V357.3M406.04 355.3V357.3M439.22 355.3V357.3"/>
</g>
<path d="M306.5 355.3V228.8" stroke="#777" stroke-width="1.1" fill="none"/>
<path d="M304.4 314H306.5M304.4 271.4H306.5M304.4 228.8H306.5" stroke="#222" stroke-width="0.95"/>
<text x="303.2" y="316.3" font-size="6.5" text-anchor="end" fill="#222" textLength="6.5" lengthAdjust="spacingAndGlyphs" stroke="#222" stroke-width="0.12">90</text>
<text x="303.2" y="273.7" font-size="6.5" text-anchor="end" fill="#222" textLength="9.75" lengthAdjust="spacingAndGlyphs" stroke="#222" stroke-width="0.12">100</text>
<text x="303.2" y="231.1" font-size="6.5" text-anchor="end" fill="#222" textLength="9.75" lengthAdjust="spacingAndGlyphs" stroke="#222" stroke-width="0.12">110</text>
<text x="249.8" y="364.3" font-size="6.5" text-anchor="middle" fill="#222" textLength="5.2" lengthAdjust="spacingAndGlyphs" stroke="#222" stroke-width="0.12">-7</text>
<text x="306.5" y="364.3" font-size="6.5" text-anchor="middle" fill="#222" textLength="3.25" lengthAdjust="spacingAndGlyphs" stroke="#222" stroke-width="0.12">0</text>
<text x="339.68" y="364.3" font-size="6.5" text-anchor="middle" fill="#222" textLength="3.25" lengthAdjust="spacingAndGlyphs" stroke="#222" stroke-width="0.12">7</text>
<text x="372.86" y="364.3" font-size="6.5" text-anchor="middle" fill="#222" textLength="6.5" lengthAdjust="spacingAndGlyphs" stroke="#222" stroke-width="0.12">14</text>
<text x="406.04" y="364.3" font-size="6.5" text-anchor="middle" fill="#222" textLength="6.5" lengthAdjust="spacingAndGlyphs" stroke="#222" stroke-width="0.12">21</text>
<text x="439.22" y="364.3" font-size="6.5" text-anchor="middle" fill="#222" textLength="6.5" lengthAdjust="spacingAndGlyphs" stroke="#222" stroke-width="0.12">28</text>
<text x="344.51" y="372.6" font-size="6.2" font-weight="bold" text-anchor="middle" fill="#111" textLength="50" lengthAdjust="spacingAndGlyphs" stroke="#111" stroke-width="0.16">Day post infection</text>
<text x="291" y="285.4" font-size="6.6" font-weight="bold" text-anchor="middle" fill="#111" textLength="49.3" lengthAdjust="spacingAndGlyphs" transform="rotate(-90 291 285.4)" stroke="#111" stroke-width="0.16">% Body Weight</text>
<text x="249.8" y="328.3" font-size="6.4" text-anchor="middle" fill="#5e9aa4" textLength="17.5" lengthAdjust="spacingAndGlyphs" stroke="#5e9aa4" stroke-width="0.08">CD388</text>
<text x="249.8" y="335.7" font-size="6.3" text-anchor="middle" fill="#5e9aa4" textLength="25.5" lengthAdjust="spacingAndGlyphs" stroke="#5e9aa4" stroke-width="0.08">Dose (IM)</text>
<path d="M249.8 338V350.3" stroke="#4f97a2" stroke-width="0.9"/>
<path d="M247.5 348.8L252.1 348.8L249.8 353.5Z" fill="#4f97a2"/>
<path d="M290.4 381.4H297.8" stroke="#222222" stroke-width="0.85"/>
<circle cx="294.1" cy="381.4" r="1.45" fill="#fff" fill-opacity="0.6" stroke="#222222" stroke-width="1.05"/>
<text x="302.5" y="383.6" font-size="6.3" text-anchor="start" fill="#222" textLength="35.8" lengthAdjust="spacingAndGlyphs" stroke="#222" stroke-width="0.1">sham-infected</text>
<path d="M290.4 391.2H297.8" stroke="#111111" stroke-width="0.85"/>
<circle cx="294.1" cy="391.2" r="1.5" fill="#111111"/>
<text x="302.5" y="393.4" font-size="6.3" text-anchor="start" fill="#222" textLength="11.42" lengthAdjust="spacingAndGlyphs" stroke="#222" stroke-width="0.1">PBS</text>
<path d="M290.4 400.7H297.8" stroke="#5b8f96" stroke-width="0.85"/>
<circle cx="294.1" cy="400.7" r="1.25" fill="#4b848b"/>
<text x="302.5" y="402.9" font-size="6.3" text-anchor="start" fill="#222" textLength="43.4" lengthAdjust="spacingAndGlyphs" stroke="#222" stroke-width="0.1">CD388 (3 mg/kg)</text>
<path d="M369.8 381.4H377.2" stroke="#568990" stroke-width="0.85"/>
<rect x="372" y="379.9" width="3" height="3" fill="#437a81"/>
<text x="381.9" y="383.6" font-size="6.3" text-anchor="start" fill="#222" textLength="43.4" lengthAdjust="spacingAndGlyphs" stroke="#222" stroke-width="0.1">CD388 (1 mg/kg)</text>
<path d="M369.8 391.2H377.2" stroke="#6a9aa0" stroke-width="0.85"/>
<path d="M373.5 389.7L374.85 392.1L372.15 392.1Z" fill="#578d94"/>
<text x="381.9" y="393.4" font-size="6.3" text-anchor="start" fill="#222" textLength="48.16" lengthAdjust="spacingAndGlyphs" stroke="#222" stroke-width="0.1">CD388 (0.3 mg/kg)</text>
<path d="M369.8 400.7H377.2" stroke="#74a2a8" stroke-width="0.85"/>
<circle cx="373.5" cy="400.7" r="1.5" fill="#fff" fill-opacity="0.6" stroke="#5f9299" stroke-width="0.85"/>
<text x="381.9" y="402.9" font-size="6.3" text-anchor="start" fill="#222" textLength="48.16" lengthAdjust="spacingAndGlyphs" stroke="#222" stroke-width="0.1">CD388 (0.1 mg/kg)</text>
<text x="597.65" y="218" font-size="9.6" font-weight="bold" text-anchor="middle" fill="#111" textLength="141.5" lengthAdjust="spacingAndGlyphs" stroke="#111" stroke-width="0.2">A/California/12/2012 (H1N1)pdm09</text>
<path d="M540.4 260.9H673.4" stroke="#a29c9c" stroke-width="1.05" stroke-dasharray="1.9 1.3" fill="none"/>
<path d="M540.4 260.9L545.15 272.38L549.9 273.02L554.65 287.7L559.4 288.97L564.15 291.84L568.9 283.55L573.65 281.95L578.4 268.56L583.15 268.24L587.9 263.77L592.65 258.35L597.4 258.99L602.15 256.75L606.9 254.2L611.65 259.94L616.4 256.12L621.15 258.35L625.9 257.07L630.65 254.2L635.4 253.56L640.15 249.73L644.9 240.8L649.65 249.42L654.4 251.01L659.15 246.86L663.9 244.63L668.65 247.5L673.4 245.91" stroke="#5b8f96" stroke-width="0.8" fill="none" stroke-linejoin="round"/>
<circle cx="540.4" cy="260.9" r="1.25" fill="#4b848b"/>
<circle cx="545.15" cy="272.38" r="1.25" fill="#4b848b"/>
<circle cx="549.9" cy="273.02" r="1.25" fill="#4b848b"/>
<circle cx="554.65" cy="287.7" r="1.25" fill="#4b848b"/>
<circle cx="559.4" cy="288.97" r="1.25" fill="#4b848b"/>
<circle cx="564.15" cy="291.84" r="1.25" fill="#4b848b"/>
<circle cx="568.9" cy="283.55" r="1.25" fill="#4b848b"/>
<circle cx="573.65" cy="281.95" r="1.25" fill="#4b848b"/>
<circle cx="578.4" cy="268.56" r="1.25" fill="#4b848b"/>
<circle cx="583.15" cy="268.24" r="1.25" fill="#4b848b"/>
<circle cx="587.9" cy="263.77" r="1.25" fill="#4b848b"/>
<circle cx="592.65" cy="258.35" r="1.25" fill="#4b848b"/>
<circle cx="597.4" cy="258.99" r="1.25" fill="#4b848b"/>
<circle cx="602.15" cy="256.75" r="1.25" fill="#4b848b"/>
<circle cx="606.9" cy="254.2" r="1.25" fill="#4b848b"/>
<circle cx="611.65" cy="259.94" r="1.25" fill="#4b848b"/>
<circle cx="616.4" cy="256.12" r="1.25" fill="#4b848b"/>
<circle cx="621.15" cy="258.35" r="1.25" fill="#4b848b"/>
<circle cx="625.9" cy="257.07" r="1.25" fill="#4b848b"/>
<circle cx="630.65" cy="254.2" r="1.25" fill="#4b848b"/>
<circle cx="635.4" cy="253.56" r="1.25" fill="#4b848b"/>
<circle cx="640.15" cy="249.73" r="1.25" fill="#4b848b"/>
<circle cx="644.9" cy="240.8" r="1.25" fill="#4b848b"/>
<circle cx="649.65" cy="249.42" r="1.25" fill="#4b848b"/>
<circle cx="654.4" cy="251.01" r="1.25" fill="#4b848b"/>
<circle cx="659.15" cy="246.86" r="1.25" fill="#4b848b"/>
<circle cx="663.9" cy="244.63" r="1.25" fill="#4b848b"/>
<circle cx="668.65" cy="247.5" r="1.25" fill="#4b848b"/>
<circle cx="673.4" cy="245.91" r="1.25" fill="#4b848b"/>
<path d="M540.4 260.9L545.15 279.08L549.9 288.01L554.65 304.6L559.4 305.88L564.15 299.5L568.9 297.58L573.65 289.61L578.4 273.02L583.15 277.49L587.9 274.3L592.65 268.56L597.4 266.96L602.15 266.64L606.9 262.18L611.65 260.58L616.4 262.81L621.15 267.6L625.9 260.58L630.65 264.09L635.4 262.18L640.15 251.33L644.9 252.92L649.65 255.8L654.4 262.5L659.15 259.3L663.9 256.43L668.65 259.3L673.4 250.69" stroke="#568990" stroke-width="0.8" fill="none" stroke-linejoin="round"/>
<rect x="538.9" y="259.4" width="3" height="3" fill="#437a81"/>
<rect x="543.65" y="277.58" width="3" height="3" fill="#437a81"/>
<rect x="548.4" y="286.51" width="3" height="3" fill="#437a81"/>
<rect x="553.15" y="303.1" width="3" height="3" fill="#437a81"/>
<rect x="557.9" y="304.38" width="3" height="3" fill="#437a81"/>
<rect x="562.65" y="298" width="3" height="3" fill="#437a81"/>
<rect x="567.4" y="296.08" width="3" height="3" fill="#437a81"/>
<rect x="572.15" y="288.11" width="3" height="3" fill="#437a81"/>
<rect x="576.9" y="271.52" width="3" height="3" fill="#437a81"/>
<rect x="581.65" y="275.99" width="3" height="3" fill="#437a81"/>
<rect x="586.4" y="272.8" width="3" height="3" fill="#437a81"/>
<rect x="591.15" y="267.06" width="3" height="3" fill="#437a81"/>
<rect x="595.9" y="265.46" width="3" height="3" fill="#437a81"/>
<rect x="600.65" y="265.14" width="3" height="3" fill="#437a81"/>
<rect x="605.4" y="260.68" width="3" height="3" fill="#437a81"/>
<rect x="610.15" y="259.08" width="3" height="3" fill="#437a81"/>
<rect x="614.9" y="261.31" width="3" height="3" fill="#437a81"/>
<rect x="619.65" y="266.1" width="3" height="3" fill="#437a81"/>
<rect x="624.4" y="259.08" width="3" height="3" fill="#437a81"/>
<rect x="629.15" y="262.59" width="3" height="3" fill="#437a81"/>
<rect x="633.9" y="260.68" width="3" height="3" fill="#437a81"/>
<rect x="638.65" y="249.83" width="3" height="3" fill="#437a81"/>
<rect x="643.4" y="251.42" width="3" height="3" fill="#437a81"/>
<rect x="648.15" y="254.3" width="3" height="3" fill="#437a81"/>
<rect x="652.9" y="261" width="3" height="3" fill="#437a81"/>
<rect x="657.65" y="257.8" width="3" height="3" fill="#437a81"/>
<rect x="662.4" y="254.93" width="3" height="3" fill="#437a81"/>
<rect x="667.15" y="257.8" width="3" height="3" fill="#437a81"/>
<rect x="671.9" y="249.19" width="3" height="3" fill="#437a81"/>
<path d="M540.4 260.9L545.15 275.25L549.9 287.06L554.65 313.53L559.4 314.49" stroke="#6a9aa0" stroke-width="0.8" fill="none" stroke-linejoin="round"/>
<path d="M540.4 259.4L541.75 261.8L539.05 261.8Z" fill="#578d94"/>
<path d="M545.15 273.75L546.5 276.15L543.8 276.15Z" fill="#578d94"/>
<path d="M549.9 285.56L551.25 287.96L548.55 287.96Z" fill="#578d94"/>
<path d="M554.65 312.03L556 314.43L553.3 314.43Z" fill="#578d94"/>
<path d="M559.4 312.99L560.75 315.39L558.05 315.39Z" fill="#578d94"/>
<path d="M540.4 260.9L545.15 274.3L549.9 286.42L554.65 314.17L559.4 315.13L564.15 314.81" stroke="#74a2a8" stroke-width="0.8" fill="none" stroke-linejoin="round"/>
<circle cx="540.4" cy="260.9" r="1.5" fill="#fff" fill-opacity="0.6" stroke="#5f9299" stroke-width="0.85"/>
<circle cx="545.15" cy="274.3" r="1.5" fill="#fff" fill-opacity="0.6" stroke="#5f9299" stroke-width="0.85"/>
<circle cx="549.9" cy="286.42" r="1.5" fill="#fff" fill-opacity="0.6" stroke="#5f9299" stroke-width="0.85"/>
<circle cx="554.65" cy="314.17" r="1.5" fill="#fff" fill-opacity="0.6" stroke="#5f9299" stroke-width="0.85"/>
<circle cx="559.4" cy="315.13" r="1.5" fill="#fff" fill-opacity="0.6" stroke="#5f9299" stroke-width="0.85"/>
<circle cx="564.15" cy="314.81" r="1.5" fill="#fff" fill-opacity="0.6" stroke="#5f9299" stroke-width="0.85"/>
<path d="M540.4 260.9L545.15 267.92L549.9 265.37L554.65 260.9L559.4 255.8L564.15 257.71L568.9 259.94L573.65 255.8L578.4 247.18L583.15 262.18L587.9 258.35L592.65 256.43L597.4 254.52L602.15 253.88L606.9 251.33L611.65 257.71L616.4 251.97L621.15 259.3L625.9 253.56L630.65 256.75L635.4 254.2L640.15 238.89L644.9 249.1L649.65 246.54L654.4 249.42L659.15 250.05L663.9 243.67L668.65 247.5L673.4 242.08" stroke="#222222" stroke-width="0.95" fill="none" stroke-linejoin="round"/>
<circle cx="540.4" cy="260.9" r="1.45" fill="#fff" fill-opacity="0.6" stroke="#222222" stroke-width="1.05"/>
<circle cx="545.15" cy="267.92" r="1.45" fill="#fff" fill-opacity="0.6" stroke="#222222" stroke-width="1.05"/>
<circle cx="549.9" cy="265.37" r="1.45" fill="#fff" fill-opacity="0.6" stroke="#222222" stroke-width="1.05"/>
<circle cx="554.65" cy="260.9" r="1.45" fill="#fff" fill-opacity="0.6" stroke="#222222" stroke-width="1.05"/>
<circle cx="559.4" cy="255.8" r="1.45" fill="#fff" fill-opacity="0.6" stroke="#222222" stroke-width="1.05"/>
<circle cx="564.15" cy="257.71" r="1.45" fill="#fff" fill-opacity="0.6" stroke="#222222" stroke-width="1.05"/>
<circle cx="568.9" cy="259.94" r="1.45" fill="#fff" fill-opacity="0.6" stroke="#222222" stroke-width="1.05"/>
<circle cx="573.65" cy="255.8" r="1.45" fill="#fff" fill-opacity="0.6" stroke="#222222" stroke-width="1.05"/>
<circle cx="578.4" cy="247.18" r="1.45" fill="#fff" fill-opacity="0.6" stroke="#222222" stroke-width="1.05"/>
<circle cx="583.15" cy="262.18" r="1.45" fill="#fff" fill-opacity="0.6" stroke="#222222" stroke-width="1.05"/>
<circle cx="587.9" cy="258.35" r="1.45" fill="#fff" fill-opacity="0.6" stroke="#222222" stroke-width="1.05"/>
<circle cx="592.65" cy="256.43" r="1.45" fill="#fff" fill-opacity="0.6" stroke="#222222" stroke-width="1.05"/>
<circle cx="597.4" cy="254.52" r="1.45" fill="#fff" fill-opacity="0.6" stroke="#222222" stroke-width="1.05"/>
<circle cx="602.15" cy="253.88" r="1.45" fill="#fff" fill-opacity="0.6" stroke="#222222" stroke-width="1.05"/>
<circle cx="606.9" cy="251.33" r="1.45" fill="#fff" fill-opacity="0.6" stroke="#222222" stroke-width="1.05"/>
<circle cx="611.65" cy="257.71" r="1.45" fill="#fff" fill-opacity="0.6" stroke="#222222" stroke-width="1.05"/>
<circle cx="616.4" cy="251.97" r="1.45" fill="#fff" fill-opacity="0.6" stroke="#222222" stroke-width="1.05"/>
<circle cx="621.15" cy="259.3" r="1.45" fill="#fff" fill-opacity="0.6" stroke="#222222" stroke-width="1.05"/>
<circle cx="625.9" cy="253.56" r="1.45" fill="#fff" fill-opacity="0.6" stroke="#222222" stroke-width="1.05"/>
<circle cx="630.65" cy="256.75" r="1.45" fill="#fff" fill-opacity="0.6" stroke="#222222" stroke-width="1.05"/>
<circle cx="635.4" cy="254.2" r="1.45" fill="#fff" fill-opacity="0.6" stroke="#222222" stroke-width="1.05"/>
<circle cx="640.15" cy="238.89" r="1.45" fill="#fff" fill-opacity="0.6" stroke="#222222" stroke-width="1.05"/>
<circle cx="644.9" cy="249.1" r="1.45" fill="#fff" fill-opacity="0.6" stroke="#222222" stroke-width="1.05"/>
<circle cx="649.65" cy="246.54" r="1.45" fill="#fff" fill-opacity="0.6" stroke="#222222" stroke-width="1.05"/>
<circle cx="654.4" cy="249.42" r="1.45" fill="#fff" fill-opacity="0.6" stroke="#222222" stroke-width="1.05"/>
<circle cx="659.15" cy="250.05" r="1.45" fill="#fff" fill-opacity="0.6" stroke="#222222" stroke-width="1.05"/>
<circle cx="663.9" cy="243.67" r="1.45" fill="#fff" fill-opacity="0.6" stroke="#222222" stroke-width="1.05"/>
<circle cx="668.65" cy="247.5" r="1.45" fill="#fff" fill-opacity="0.6" stroke="#222222" stroke-width="1.05"/>
<circle cx="673.4" cy="242.08" r="1.45" fill="#fff" fill-opacity="0.6" stroke="#222222" stroke-width="1.05"/>
<path d="M540.4 260.9L545.15 276.53L549.9 286.1L554.65 315.45L559.4 320.55" stroke="#111111" stroke-width="0.9" fill="none" stroke-linejoin="round"/>
<circle cx="540.4" cy="260.9" r="1.5" fill="#111111"/>
<circle cx="545.15" cy="276.53" r="1.5" fill="#111111"/>
<circle cx="549.9" cy="286.1" r="1.5" fill="#111111"/>
<circle cx="554.65" cy="315.45" r="1.5" fill="#111111"/>
<circle cx="559.4" cy="320.55" r="1.5" fill="#111111"/>
<g stroke="#222" stroke-width="0.9" fill="none">
<path d="M483 355.6H528.1M534.2 355.6H673.4"/>
<path d="M525.9 353.4L529.9 357.8M532.2 353.4L536.1 357.8" stroke-width="0.8"/>
<path d="M483 355.6V357.6M540.4 355.6V357.6M573.65 355.6V357.6M606.9 355.6V357.6M640.15 355.6V357.6M673.4 355.6V357.6"/>
</g>
<path d="M540.4 355.6V229" stroke="#444" stroke-width="1.1" fill="none"/>
<path d="M538.3 324.7H540.4M538.3 292.8H540.4M538.3 260.9H540.4M538.3 229H540.4" stroke="#222" stroke-width="0.95"/>
<text x="537.1" y="327" font-size="6.5" text-anchor="end" fill="#222" textLength="6.5" lengthAdjust="spacingAndGlyphs" stroke="#222" stroke-width="0.12">80</text>
<text x="537.1" y="295.1" font-size="6.5" text-anchor="end" fill="#222" textLength="6.5" lengthAdjust="spacingAndGlyphs" stroke="#222" stroke-width="0.12">90</text>
<text x="537.1" y="263.2" font-size="6.5" text-anchor="end" fill="#222" textLength="9.75" lengthAdjust="spacingAndGlyphs" stroke="#222" stroke-width="0.12">100</text>
<text x="537.1" y="231.3" font-size="6.5" text-anchor="end" fill="#222" textLength="9.75" lengthAdjust="spacingAndGlyphs" stroke="#222" stroke-width="0.12">110</text>
<text x="483" y="364.6" font-size="6.5" text-anchor="middle" fill="#222" textLength="5.2" lengthAdjust="spacingAndGlyphs" stroke="#222" stroke-width="0.12">-7</text>
<text x="540.4" y="364.6" font-size="6.5" text-anchor="middle" fill="#222" textLength="3.25" lengthAdjust="spacingAndGlyphs" stroke="#222" stroke-width="0.12">0</text>
<text x="573.65" y="364.6" font-size="6.5" text-anchor="middle" fill="#222" textLength="3.25" lengthAdjust="spacingAndGlyphs" stroke="#222" stroke-width="0.12">7</text>
<text x="606.9" y="364.6" font-size="6.5" text-anchor="middle" fill="#222" textLength="6.5" lengthAdjust="spacingAndGlyphs" stroke="#222" stroke-width="0.12">14</text>
<text x="640.15" y="364.6" font-size="6.5" text-anchor="middle" fill="#222" textLength="6.5" lengthAdjust="spacingAndGlyphs" stroke="#222" stroke-width="0.12">21</text>
<text x="673.4" y="364.6" font-size="6.5" text-anchor="middle" fill="#222" textLength="6.5" lengthAdjust="spacingAndGlyphs" stroke="#222" stroke-width="0.12">28</text>
<text x="578.2" y="372.9" font-size="6.2" font-weight="bold" text-anchor="middle" fill="#111" textLength="50" lengthAdjust="spacingAndGlyphs" stroke="#111" stroke-width="0.16">Day post infection</text>
<text x="524.5" y="285.4" font-size="6.6" font-weight="bold" text-anchor="middle" fill="#111" textLength="49.3" lengthAdjust="spacingAndGlyphs" transform="rotate(-90 524.5 285.4)" stroke="#111" stroke-width="0.16">% Body Weight</text>
<text x="483" y="328.6" font-size="6.4" text-anchor="middle" fill="#5e9aa4" textLength="17.5" lengthAdjust="spacingAndGlyphs" stroke="#5e9aa4" stroke-width="0.08">CD388</text>
<text x="483" y="336" font-size="6.3" text-anchor="middle" fill="#5e9aa4" textLength="25.5" lengthAdjust="spacingAndGlyphs" stroke="#5e9aa4" stroke-width="0.08">Dose (IM)</text>
<path d="M483 338.3V350.6" stroke="#4f97a2" stroke-width="0.9"/>
<path d="M480.7 349.1L485.3 349.1L483 353.8Z" fill="#4f97a2"/>
<path d="M539.7 381.4H547.1" stroke="#222222" stroke-width="0.85"/>
<circle cx="543.4" cy="381.4" r="1.45" fill="#fff" fill-opacity="0.6" stroke="#222222" stroke-width="1.05"/>
<text x="551.9" y="383.6" font-size="6.3" text-anchor="start" fill="#222" textLength="35.8" lengthAdjust="spacingAndGlyphs" stroke="#222" stroke-width="0.1">sham-infected</text>
<path d="M539.7 391.2H547.1" stroke="#111111" stroke-width="0.85"/>
<circle cx="543.4" cy="391.2" r="1.5" fill="#111111"/>
<text x="551.9" y="393.4" font-size="6.3" text-anchor="start" fill="#222" textLength="11.42" lengthAdjust="spacingAndGlyphs" stroke="#222" stroke-width="0.1">PBS</text>
<path d="M539.7 401H547.1" stroke="#5b8f96" stroke-width="0.85"/>
<circle cx="543.4" cy="401" r="1.25" fill="#4b848b"/>
<text x="551.9" y="403.2" font-size="6.3" text-anchor="start" fill="#222" textLength="43.4" lengthAdjust="spacingAndGlyphs" stroke="#222" stroke-width="0.1">CD388 (3 mg/kg)</text>
<path d="M609.8 381.4H617.2" stroke="#568990" stroke-width="0.85"/>
<rect x="612" y="379.9" width="3" height="3" fill="#437a81"/>
<text x="620.8" y="383.6" font-size="6.3" text-anchor="start" fill="#222" textLength="43.4" lengthAdjust="spacingAndGlyphs" stroke="#222" stroke-width="0.1">CD388 (1 mg/kg)</text>
<path d="M609.8 391.2H617.2" stroke="#6a9aa0" stroke-width="0.85"/>
<path d="M613.5 389.7L614.85 392.1L612.15 392.1Z" fill="#578d94"/>
<text x="620.8" y="393.4" font-size="6.3" text-anchor="start" fill="#222" textLength="48.16" lengthAdjust="spacingAndGlyphs" stroke="#222" stroke-width="0.1">CD388 (0.3 mg/kg)</text>
<path d="M609.8 401H617.2" stroke="#74a2a8" stroke-width="0.85"/>
<circle cx="613.5" cy="401" r="1.5" fill="#fff" fill-opacity="0.6" stroke="#5f9299" stroke-width="0.85"/>
<text x="620.8" y="403.2" font-size="6.3" text-anchor="start" fill="#222" textLength="48.16" lengthAdjust="spacingAndGlyphs" stroke="#222" stroke-width="0.1">CD388 (0.1 mg/kg)</text>
<text x="129.4" y="448" font-size="9.6" font-weight="bold" text-anchor="middle" fill="#111" textLength="134" lengthAdjust="spacingAndGlyphs" stroke="#111" stroke-width="0.2">A/North Carolina/04/2014 (H1N1)</text>
<path d="M73 459.65L205.01 459.65" stroke="#5b8f96" stroke-width="0.8" fill="none"/>
<circle cx="205.01" cy="459.65" r="1.25" fill="#4b848b"/>
<path d="M73 462.9L205.01 462.9" stroke="#568990" stroke-width="0.8" fill="none"/>
<rect x="203.51" y="461.4" width="3" height="3" fill="#437a81"/>
<path d="M73 466.38L205.01 466.38" stroke="#6a9aa0" stroke-width="0.8" fill="none"/>
<path d="M205.01 464.88L206.36 467.28L203.66 467.28Z" fill="#578d94"/>
<path d="M73 470.1L205.01 470.1" stroke="#74a2a8" stroke-width="0.8" fill="none"/>
<circle cx="205.01" cy="470.1" r="1.5" fill="#fff" fill-opacity="0.6" stroke="#5f9299" stroke-width="0.85"/>
<path d="M73 470.1L98.14 470.1L98.14 539.76L104.43 539.76L104.43 562.98L117 562.98L117 586.2" stroke="#111111" stroke-width="0.9" fill="none"/>
<circle cx="98.14" cy="539.76" r="1.5" fill="#111111"/>
<circle cx="104.43" cy="562.98" r="1.5" fill="#111111"/>
<circle cx="117" cy="586.2" r="1.5" fill="#111111"/>
<g stroke="#222" stroke-width="0.9" fill="none">
<path d="M14.8 586.2H60.7M66.8 586.2H205.01"/>
<path d="M58.5 584L62.5 588.4M64.8 584L68.7 588.4" stroke-width="0.8"/>
<path d="M14.8 586.2V588.2M73 586.2V588.2M117 586.2V588.2M161 586.2V588.2M205.01 586.2V588.2"/>
</g>
<path d="M73 586.2V459.6" stroke="#666" stroke-width="1.1" fill="none"/>
<path d="M70.9 562.98H73M70.9 539.76H73M70.9 516.54H73M70.9 493.32H73M70.9 470.1H73" stroke="#222" stroke-width="0.95"/>
<text x="69.7" y="565.28" font-size="6.5" text-anchor="end" fill="#222" textLength="6.5" lengthAdjust="spacingAndGlyphs" stroke="#222" stroke-width="0.12">20</text>
<text x="69.7" y="542.06" font-size="6.5" text-anchor="end" fill="#222" textLength="6.5" lengthAdjust="spacingAndGlyphs" stroke="#222" stroke-width="0.12">40</text>
<text x="69.7" y="518.84" font-size="6.5" text-anchor="end" fill="#222" textLength="6.5" lengthAdjust="spacingAndGlyphs" stroke="#222" stroke-width="0.12">60</text>
<text x="69.7" y="495.62" font-size="6.5" text-anchor="end" fill="#222" textLength="6.5" lengthAdjust="spacingAndGlyphs" stroke="#222" stroke-width="0.12">80</text>
<text x="69.7" y="472.4" font-size="6.5" text-anchor="end" fill="#222" textLength="9.75" lengthAdjust="spacingAndGlyphs" stroke="#222" stroke-width="0.12">100</text>
<text x="14.8" y="595.2" font-size="6.5" text-anchor="middle" fill="#222" textLength="5.2" lengthAdjust="spacingAndGlyphs" stroke="#222" stroke-width="0.12">-7</text>
<text x="73" y="595.2" font-size="6.5" text-anchor="middle" fill="#222" textLength="3.25" lengthAdjust="spacingAndGlyphs" stroke="#222" stroke-width="0.12">0</text>
<text x="117" y="595.2" font-size="6.5" text-anchor="middle" fill="#222" textLength="3.25" lengthAdjust="spacingAndGlyphs" stroke="#222" stroke-width="0.12">7</text>
<text x="161" y="595.2" font-size="6.5" text-anchor="middle" fill="#222" textLength="6.5" lengthAdjust="spacingAndGlyphs" stroke="#222" stroke-width="0.12">14</text>
<text x="205.01" y="595.2" font-size="6.5" text-anchor="middle" fill="#222" textLength="6.5" lengthAdjust="spacingAndGlyphs" stroke="#222" stroke-width="0.12">21</text>
<text x="109.9" y="603.5" font-size="6.2" font-weight="bold" text-anchor="middle" fill="#111" textLength="50" lengthAdjust="spacingAndGlyphs" stroke="#111" stroke-width="0.16">Day post infection</text>
<text x="57" y="518.6" font-size="6.6" font-weight="bold" text-anchor="middle" fill="#111" textLength="35.9" lengthAdjust="spacingAndGlyphs" transform="rotate(-90 57 518.6)" stroke="#111" stroke-width="0.16">% Survival</text>
<text x="14.8" y="559.2" font-size="6.4" text-anchor="middle" fill="#5e9aa4" textLength="17.5" lengthAdjust="spacingAndGlyphs" stroke="#5e9aa4" stroke-width="0.08">CD388</text>
<text x="14.8" y="566.6" font-size="6.3" text-anchor="middle" fill="#5e9aa4" textLength="25.5" lengthAdjust="spacingAndGlyphs" stroke="#5e9aa4" stroke-width="0.08">Dose (IM)</text>
<path d="M14.8 568.9V581.2" stroke="#4f97a2" stroke-width="0.9"/>
<path d="M12.5 579.7L17.1 579.7L14.8 584.4Z" fill="#4f97a2"/>
<path d="M71.2 611.8H78.6" stroke="#111111" stroke-width="0.85"/>
<circle cx="74.9" cy="611.8" r="1.5" fill="#111111"/>
<text x="82.9" y="614" font-size="6.3" text-anchor="start" fill="#222" textLength="11.52" lengthAdjust="spacingAndGlyphs" stroke="#222" stroke-width="0.1">PBS</text>
<path d="M71.2 621.6H78.6" stroke="#5b8f96" stroke-width="0.85"/>
<circle cx="74.9" cy="621.6" r="1.25" fill="#4b848b"/>
<text x="82.9" y="623.8" font-size="6.3" text-anchor="start" fill="#222" textLength="43.78" lengthAdjust="spacingAndGlyphs" stroke="#222" stroke-width="0.1">CD388 (3 mg/kg)</text>
<path d="M71.2 631.7H78.6" stroke="#568990" stroke-width="0.85"/>
<rect x="73.4" y="630.2" width="3" height="3" fill="#437a81"/>
<text x="82.9" y="633.9" font-size="6.3" text-anchor="start" fill="#222" textLength="43.78" lengthAdjust="spacingAndGlyphs" stroke="#222" stroke-width="0.1">CD388 (1 mg/kg)</text>
<path d="M139 611.8H146.4" stroke="#6a9aa0" stroke-width="0.85"/>
<path d="M142.7 610.3L144.05 612.7L141.35 612.7Z" fill="#578d94"/>
<text x="149.9" y="614" font-size="6.3" text-anchor="start" fill="#222" textLength="48.58" lengthAdjust="spacingAndGlyphs" stroke="#222" stroke-width="0.1">CD388 (0.3 mg/kg)</text>
<path d="M139 621.6H146.4" stroke="#74a2a8" stroke-width="0.85"/>
<circle cx="142.7" cy="621.6" r="1.5" fill="#fff" fill-opacity="0.6" stroke="#5f9299" stroke-width="0.85"/>
<text x="149.9" y="623.8" font-size="6.3" text-anchor="start" fill="#222" textLength="48.58" lengthAdjust="spacingAndGlyphs" stroke="#222" stroke-width="0.1">CD388 (0.1 mg/kg)</text>
<text x="364.7" y="448" font-size="9.6" font-weight="bold" text-anchor="middle" fill="#111" textLength="129.6" lengthAdjust="spacingAndGlyphs" stroke="#111" stroke-width="0.2">A/Hawaii/70/2019 (H1N1)pdm09</text>
<path d="M308.3 459.83L439.97 459.83" stroke="#5b8f96" stroke-width="0.8" fill="none"/>
<circle cx="439.97" cy="459.83" r="1.25" fill="#4b848b"/>
<path d="M308.3 463.42L439.97 463.42" stroke="#568990" stroke-width="0.8" fill="none"/>
<rect x="438.47" y="461.92" width="3" height="3" fill="#437a81"/>
<path d="M308.3 466.9L439.97 466.9" stroke="#74a2a8" stroke-width="0.8" fill="none"/>
<circle cx="439.97" cy="466.9" r="1.5" fill="#fff" fill-opacity="0.6" stroke="#5f9299" stroke-width="0.85"/>
<path d="M308.3 466.9L345.92 466.9L345.92 490.88L439.97 490.88" stroke="#6a9aa0" stroke-width="0.8" fill="none"/>
<path d="M345.92 489.38L347.27 491.78L344.57 491.78Z" fill="#578d94"/>
<path d="M439.97 489.38L441.32 491.78L438.62 491.78Z" fill="#578d94"/>
<path d="M308.3 466.9L358.46 466.9L358.46 490.88L439.97 490.88" stroke="#7ea9ae" stroke-width="0.8" fill="none"/>
<rect x="357.01" y="489.43" width="2.9" height="2.9" fill="#fff" fill-opacity="0.6" stroke="#6a9aa0" stroke-width="0.85"/>
<rect x="438.52" y="489.43" width="2.9" height="2.9" fill="#fff" fill-opacity="0.6" stroke="#6a9aa0" stroke-width="0.85"/>
<path d="M308.3 466.9L333.38 466.9L333.38 538.84L339.65 538.84L339.65 586.8" stroke="#9a9a9a" stroke-width="0.8" fill="none"/>
<circle cx="333.38" cy="538.84" r="1.5" fill="#9a9a9a"/>
<circle cx="339.65" cy="586.8" r="1.5" fill="#9a9a9a"/>
<path d="M308.3 466.9L333.38 466.9L333.38 562.82L339.65 562.82L339.65 586.8" stroke="#111111" stroke-width="0.9" fill="none"/>
<circle cx="333.38" cy="562.82" r="1.5" fill="#111111"/>
<circle cx="339.65" cy="586.8" r="1.5" fill="#111111"/>
<g stroke="#222" stroke-width="0.9" fill="none">
<path d="M249.5 586.8H296M302.1 586.8H439.97"/>
<path d="M293.8 584.6L297.8 589M300.1 584.6L304 589" stroke-width="0.8"/>
<path d="M249.5 586.8V588.8M308.3 586.8V588.8M352.19 586.8V588.8M396.08 586.8V588.8M439.97 586.8V588.8"/>
</g>
<path d="M308.3 586.8V459.9" stroke="#555" stroke-width="1.1" fill="none"/>
<path d="M306.2 562.82H308.3M306.2 538.84H308.3M306.2 514.86H308.3M306.2 490.88H308.3M306.2 466.9H308.3" stroke="#222" stroke-width="0.95"/>
<text x="305" y="565.12" font-size="6.5" text-anchor="end" fill="#222" textLength="6.5" lengthAdjust="spacingAndGlyphs" stroke="#222" stroke-width="0.12">20</text>
<text x="305" y="541.14" font-size="6.5" text-anchor="end" fill="#222" textLength="6.5" lengthAdjust="spacingAndGlyphs" stroke="#222" stroke-width="0.12">40</text>
<text x="305" y="517.16" font-size="6.5" text-anchor="end" fill="#222" textLength="6.5" lengthAdjust="spacingAndGlyphs" stroke="#222" stroke-width="0.12">60</text>
<text x="305" y="493.18" font-size="6.5" text-anchor="end" fill="#222" textLength="6.5" lengthAdjust="spacingAndGlyphs" stroke="#222" stroke-width="0.12">80</text>
<text x="305" y="469.2" font-size="6.5" text-anchor="end" fill="#222" textLength="9.75" lengthAdjust="spacingAndGlyphs" stroke="#222" stroke-width="0.12">100</text>
<text x="249.5" y="595.8" font-size="6.5" text-anchor="middle" fill="#222" textLength="5.2" lengthAdjust="spacingAndGlyphs" stroke="#222" stroke-width="0.12">-7</text>
<text x="308.3" y="595.8" font-size="6.5" text-anchor="middle" fill="#222" textLength="3.25" lengthAdjust="spacingAndGlyphs" stroke="#222" stroke-width="0.12">0</text>
<text x="352.19" y="595.8" font-size="6.5" text-anchor="middle" fill="#222" textLength="3.25" lengthAdjust="spacingAndGlyphs" stroke="#222" stroke-width="0.12">7</text>
<text x="396.08" y="595.8" font-size="6.5" text-anchor="middle" fill="#222" textLength="6.5" lengthAdjust="spacingAndGlyphs" stroke="#222" stroke-width="0.12">14</text>
<text x="439.97" y="595.8" font-size="6.5" text-anchor="middle" fill="#222" textLength="6.5" lengthAdjust="spacingAndGlyphs" stroke="#222" stroke-width="0.12">21</text>
<text x="344.74" y="604.1" font-size="6.2" font-weight="bold" text-anchor="middle" fill="#111" textLength="50" lengthAdjust="spacingAndGlyphs" stroke="#111" stroke-width="0.16">Day post infection</text>
<text x="292.3" y="518.9" font-size="6.6" font-weight="bold" text-anchor="middle" fill="#111" textLength="35.9" lengthAdjust="spacingAndGlyphs" transform="rotate(-90 292.3 518.9)" stroke="#111" stroke-width="0.16">% Survival</text>
<text x="249.5" y="559.8" font-size="6.4" text-anchor="middle" fill="#5e9aa4" textLength="17.5" lengthAdjust="spacingAndGlyphs" stroke="#5e9aa4" stroke-width="0.08">CD388</text>
<text x="249.5" y="567.2" font-size="6.3" text-anchor="middle" fill="#5e9aa4" textLength="25.5" lengthAdjust="spacingAndGlyphs" stroke="#5e9aa4" stroke-width="0.08">Dose (IM)</text>
<path d="M249.5 569.5V581.8" stroke="#4f97a2" stroke-width="0.9"/>
<path d="M247.2 580.3L251.8 580.3L249.5 585Z" fill="#4f97a2"/>
<path d="M242.3 611.8H249.7" stroke="#111111" stroke-width="0.85"/>
<circle cx="246" cy="611.8" r="1.5" fill="#111111"/>
<text x="253.8" y="614" font-size="6.3" text-anchor="start" fill="#222" textLength="11.52" lengthAdjust="spacingAndGlyphs" stroke="#222" stroke-width="0.1">PBS</text>
<path d="M242.3 621.8H249.7" stroke="#9a9a9a" stroke-width="0.85"/>
<circle cx="246" cy="621.8" r="1.5" fill="#9a9a9a"/>
<text x="253.8" y="624" font-size="6.3" text-anchor="start" fill="#222" textLength="49.53" lengthAdjust="spacingAndGlyphs" stroke="#222" stroke-width="0.1">hIgG1 Fc (3 mg/kg)</text>
<path d="M242.3 631.7H249.7" stroke="#5b8f96" stroke-width="0.85"/>
<circle cx="246" cy="631.7" r="1.25" fill="#4b848b"/>
<text x="253.8" y="633.9" font-size="6.3" text-anchor="start" fill="#222" textLength="43.78" lengthAdjust="spacingAndGlyphs" stroke="#222" stroke-width="0.1">CD388 (3 mg/kg)</text>
<path d="M315.2 611.8H322.6" stroke="#568990" stroke-width="0.85"/>
<rect x="317.4" y="610.3" width="3" height="3" fill="#437a81"/>
<text x="326.9" y="614" font-size="6.3" text-anchor="start" fill="#222" textLength="43.78" lengthAdjust="spacingAndGlyphs" stroke="#222" stroke-width="0.1">CD388 (1 mg/kg)</text>
<path d="M315.2 621.8H322.6" stroke="#6a9aa0" stroke-width="0.85"/>
<path d="M318.9 620.3L320.25 622.7L317.55 622.7Z" fill="#578d94"/>
<text x="326.9" y="624" font-size="6.3" text-anchor="start" fill="#222" textLength="48.58" lengthAdjust="spacingAndGlyphs" stroke="#222" stroke-width="0.1">CD388 (0.3 mg/kg)</text>
<path d="M315.2 631.7H322.6" stroke="#74a2a8" stroke-width="0.85"/>
<circle cx="318.9" cy="631.7" r="1.5" fill="#fff" fill-opacity="0.6" stroke="#5f9299" stroke-width="0.85"/>
<text x="326.9" y="633.9" font-size="6.3" text-anchor="start" fill="#222" textLength="48.58" lengthAdjust="spacingAndGlyphs" stroke="#222" stroke-width="0.1">CD388 (0.1 mg/kg)</text>
<path d="M390.6 611.8H398" stroke="#7ea9ae" stroke-width="0.85"/>
<rect x="392.85" y="610.35" width="2.9" height="2.9" fill="#fff" fill-opacity="0.6" stroke="#6a9aa0" stroke-width="0.85"/>
<text x="402.3" y="614" font-size="6.3" text-anchor="start" fill="#222" textLength="51.77" lengthAdjust="spacingAndGlyphs" stroke="#222" stroke-width="0.1">CD388 (0.03 mg/kg)</text>
<text x="598.35" y="449.3" font-size="9.6" font-weight="bold" text-anchor="middle" fill="#111" textLength="117.1" lengthAdjust="spacingAndGlyphs" stroke="#111" stroke-width="0.2">B/Colorado/6/2017 (Victoria)</text>
<path d="M542 460.5L674.09 460.5" stroke="#568990" stroke-width="0.8" fill="none"/>
<rect x="672.59" y="459" width="3" height="3" fill="#437a81"/>
<path d="M542 460.5L586.03 460.5L586.03 511.22L674.09 511.22" stroke="#6a9aa0" stroke-width="0.8" fill="none"/>
<path d="M586.03 509.72L587.38 512.12L584.68 512.12Z" fill="#578d94"/>
<path d="M674.09 509.72L675.44 512.12L672.74 512.12Z" fill="#578d94"/>
<path d="M542 460.5L579.74 460.5L579.74 485.86L586.03 485.86L586.03 587.3" stroke="#74a2a8" stroke-width="0.8" fill="none"/>
<circle cx="579.74" cy="485.86" r="1.5" fill="#fff" fill-opacity="0.6" stroke="#5f9299" stroke-width="0.85"/>
<circle cx="586.03" cy="587.3" r="1.5" fill="#fff" fill-opacity="0.6" stroke="#5f9299" stroke-width="0.85"/>
<path d="M542 460.5L579.74 460.5L579.74 561.94L586.03 561.94L586.03 587.3" stroke="#7ea9ae" stroke-width="0.8" fill="none"/>
<rect x="578.29" y="560.49" width="2.9" height="2.9" fill="#fff" fill-opacity="0.6" stroke="#6a9aa0" stroke-width="0.85"/>
<rect x="584.58" y="585.85" width="2.9" height="2.9" fill="#fff" fill-opacity="0.6" stroke="#6a9aa0" stroke-width="0.85"/>
<path d="M542 460.5L573.45 460.5L573.45 511.22L579.74 511.22L579.74 587.3" stroke="#111111" stroke-width="0.9" fill="none"/>
<circle cx="573.45" cy="511.22" r="1.5" fill="#111111"/>
<circle cx="579.74" cy="587.3" r="1.5" fill="#111111"/>
<g stroke="#222" stroke-width="0.9" fill="none">
<path d="M483.7 587.3H529.7M535.8 587.3H674.09"/>
<path d="M527.5 585.1L531.5 589.5M533.8 585.1L537.7 589.5" stroke-width="0.8"/>
<path d="M483.7 587.3V589.3M542 587.3V589.3M586.03 587.3V589.3M630.06 587.3V589.3M674.09 587.3V589.3"/>
</g>
<path d="M542 587.3V460.5" stroke="#444" stroke-width="1.1" fill="none"/>
<path d="M539.9 561.94H542M539.9 536.58H542M539.9 511.22H542M539.9 485.86H542M539.9 460.5H542" stroke="#222" stroke-width="0.95"/>
<text x="538.7" y="564.24" font-size="6.5" text-anchor="end" fill="#222" textLength="6.5" lengthAdjust="spacingAndGlyphs" stroke="#222" stroke-width="0.12">20</text>
<text x="538.7" y="538.88" font-size="6.5" text-anchor="end" fill="#222" textLength="6.5" lengthAdjust="spacingAndGlyphs" stroke="#222" stroke-width="0.12">40</text>
<text x="538.7" y="513.52" font-size="6.5" text-anchor="end" fill="#222" textLength="6.5" lengthAdjust="spacingAndGlyphs" stroke="#222" stroke-width="0.12">60</text>
<text x="538.7" y="488.16" font-size="6.5" text-anchor="end" fill="#222" textLength="6.5" lengthAdjust="spacingAndGlyphs" stroke="#222" stroke-width="0.12">80</text>
<text x="538.7" y="462.8" font-size="6.5" text-anchor="end" fill="#222" textLength="9.75" lengthAdjust="spacingAndGlyphs" stroke="#222" stroke-width="0.12">100</text>
<text x="483.7" y="596.3" font-size="6.5" text-anchor="middle" fill="#222" textLength="5.2" lengthAdjust="spacingAndGlyphs" stroke="#222" stroke-width="0.12">-7</text>
<text x="542" y="596.3" font-size="6.5" text-anchor="middle" fill="#222" textLength="3.25" lengthAdjust="spacingAndGlyphs" stroke="#222" stroke-width="0.12">0</text>
<text x="586.03" y="596.3" font-size="6.5" text-anchor="middle" fill="#222" textLength="3.25" lengthAdjust="spacingAndGlyphs" stroke="#222" stroke-width="0.12">7</text>
<text x="630.06" y="596.3" font-size="6.5" text-anchor="middle" fill="#222" textLength="6.5" lengthAdjust="spacingAndGlyphs" stroke="#222" stroke-width="0.12">14</text>
<text x="674.09" y="596.3" font-size="6.5" text-anchor="middle" fill="#222" textLength="6.5" lengthAdjust="spacingAndGlyphs" stroke="#222" stroke-width="0.12">21</text>
<text x="578.89" y="604.6" font-size="6.2" font-weight="bold" text-anchor="middle" fill="#111" textLength="50" lengthAdjust="spacingAndGlyphs" stroke="#111" stroke-width="0.16">Day post infection</text>
<text x="526.1" y="519.2" font-size="6.6" font-weight="bold" text-anchor="middle" fill="#111" textLength="36" lengthAdjust="spacingAndGlyphs" transform="rotate(-90 526.1 519.2)" stroke="#111" stroke-width="0.16">% Survival</text>
<text x="483.7" y="560.3" font-size="6.4" text-anchor="middle" fill="#5e9aa4" textLength="17.5" lengthAdjust="spacingAndGlyphs" stroke="#5e9aa4" stroke-width="0.08">CD388</text>
<text x="483.7" y="567.7" font-size="6.3" text-anchor="middle" fill="#5e9aa4" textLength="25.5" lengthAdjust="spacingAndGlyphs" stroke="#5e9aa4" stroke-width="0.08">Dose (IM)</text>
<path d="M483.7 570V582.3" stroke="#4f97a2" stroke-width="0.9"/>
<path d="M481.4 580.8L486 580.8L483.7 585.5Z" fill="#4f97a2"/>
<path d="M539.7 612.5H547.1" stroke="#111111" stroke-width="0.85"/>
<circle cx="543.4" cy="612.5" r="1.5" fill="#111111"/>
<text x="551.9" y="614.7" font-size="6.3" text-anchor="start" fill="#222" textLength="11.52" lengthAdjust="spacingAndGlyphs" stroke="#222" stroke-width="0.1">PBS</text>
<path d="M539.7 622.3H547.1" stroke="#568990" stroke-width="0.85"/>
<rect x="541.9" y="620.8" width="3" height="3" fill="#437a81"/>
<text x="551.9" y="624.5" font-size="6.3" text-anchor="start" fill="#222" textLength="43.78" lengthAdjust="spacingAndGlyphs" stroke="#222" stroke-width="0.1">CD388 (1 mg/kg)</text>
<path d="M539.7 631.9H547.1" stroke="#6a9aa0" stroke-width="0.85"/>
<path d="M543.4 630.4L544.75 632.8L542.05 632.8Z" fill="#578d94"/>
<text x="551.9" y="634.1" font-size="6.3" text-anchor="start" fill="#222" textLength="48.58" lengthAdjust="spacingAndGlyphs" stroke="#222" stroke-width="0.1">CD388 (0.3 mg/kg)</text>
<path d="M607.5 612.5H614.9" stroke="#74a2a8" stroke-width="0.85"/>
<circle cx="611.2" cy="612.5" r="1.5" fill="#fff" fill-opacity="0.6" stroke="#5f9299" stroke-width="0.85"/>
<text x="619.6" y="614.7" font-size="6.3" text-anchor="start" fill="#222" textLength="48.58" lengthAdjust="spacingAndGlyphs" stroke="#222" stroke-width="0.1">CD388 (0.1 mg/kg)</text>
<path d="M607.5 622.3H614.9" stroke="#7ea9ae" stroke-width="0.85"/>
<rect x="609.75" y="620.85" width="2.9" height="2.9" fill="#fff" fill-opacity="0.6" stroke="#6a9aa0" stroke-width="0.85"/>
<text x="619.6" y="624.5" font-size="6.3" text-anchor="start" fill="#222" textLength="51.77" lengthAdjust="spacingAndGlyphs" stroke="#222" stroke-width="0.1">CD388 (0.03 mg/kg)</text>
<text x="129.4" y="663" font-size="9.6" font-weight="bold" text-anchor="middle" fill="#111" textLength="134" lengthAdjust="spacingAndGlyphs" stroke="#111" stroke-width="0.2">A/North Carolina/04/2014 (H1N1)</text>
<path d="M73.3 706.08H204.55" stroke="#a29c9c" stroke-width="1.05" stroke-dasharray="1.9 1.3" fill="none"/>
<path d="M73.3 699.5L79.55 719.74L85.8 724.29L92.05 752.12L98.3 747.06L104.55 758.7L110.8 724.29L117.05 728.34L123.3 720.25L129.55 705.57L135.8 709.11L142.05 710.63L148.3 711.64L154.55 712.66L160.8 710.63L167.05 710.63L173.3 688.87L179.55 690.39L185.8 702.54L192.05 686.85L198.3 689.38L204.55 699.5" stroke="#5b8f96" stroke-width="0.8" fill="none" stroke-linejoin="round"/>
<circle cx="73.3" cy="699.5" r="1.25" fill="#4b848b"/>
<circle cx="79.55" cy="719.74" r="1.25" fill="#4b848b"/>
<circle cx="85.8" cy="724.29" r="1.25" fill="#4b848b"/>
<circle cx="92.05" cy="752.12" r="1.25" fill="#4b848b"/>
<circle cx="98.3" cy="747.06" r="1.25" fill="#4b848b"/>
<circle cx="104.55" cy="758.7" r="1.25" fill="#4b848b"/>
<circle cx="110.8" cy="724.29" r="1.25" fill="#4b848b"/>
<circle cx="117.05" cy="728.34" r="1.25" fill="#4b848b"/>
<circle cx="123.3" cy="720.25" r="1.25" fill="#4b848b"/>
<circle cx="129.55" cy="705.57" r="1.25" fill="#4b848b"/>
<circle cx="135.8" cy="709.11" r="1.25" fill="#4b848b"/>
<circle cx="142.05" cy="710.63" r="1.25" fill="#4b848b"/>
<circle cx="148.3" cy="711.64" r="1.25" fill="#4b848b"/>
<circle cx="154.55" cy="712.66" r="1.25" fill="#4b848b"/>
<circle cx="160.8" cy="710.63" r="1.25" fill="#4b848b"/>
<circle cx="167.05" cy="710.63" r="1.25" fill="#4b848b"/>
<circle cx="173.3" cy="688.87" r="1.25" fill="#4b848b"/>
<circle cx="179.55" cy="690.39" r="1.25" fill="#4b848b"/>
<circle cx="185.8" cy="702.54" r="1.25" fill="#4b848b"/>
<circle cx="192.05" cy="686.85" r="1.25" fill="#4b848b"/>
<circle cx="198.3" cy="689.38" r="1.25" fill="#4b848b"/>
<circle cx="204.55" cy="699.5" r="1.25" fill="#4b848b"/>
<path d="M73.3 699.5L79.55 718.73L85.8 727.33L92.05 756.68L98.3 757.69L104.55 758.7L110.8 768.32L117.05 767.3L123.3 763.76L129.55 750.61L135.8 714.68L142.05 716.2L148.3 712.15L154.55 714.17L160.8 714.68L167.05 713.67L173.3 687.86L179.55 694.95L185.8 706.58L192.05 694.95L198.3 693.43L204.55 694.95" stroke="#568990" stroke-width="0.8" fill="none" stroke-linejoin="round"/>
<rect x="71.8" y="698" width="3" height="3" fill="#437a81"/>
<rect x="78.05" y="717.23" width="3" height="3" fill="#437a81"/>
<rect x="84.3" y="725.83" width="3" height="3" fill="#437a81"/>
<rect x="90.55" y="755.18" width="3" height="3" fill="#437a81"/>
<rect x="96.8" y="756.19" width="3" height="3" fill="#437a81"/>
<rect x="103.05" y="757.2" width="3" height="3" fill="#437a81"/>
<rect x="109.3" y="766.82" width="3" height="3" fill="#437a81"/>
<rect x="115.55" y="765.8" width="3" height="3" fill="#437a81"/>
<rect x="121.8" y="762.26" width="3" height="3" fill="#437a81"/>
<rect x="128.05" y="749.11" width="3" height="3" fill="#437a81"/>
<rect x="134.3" y="713.18" width="3" height="3" fill="#437a81"/>
<rect x="140.55" y="714.7" width="3" height="3" fill="#437a81"/>
<rect x="146.8" y="710.65" width="3" height="3" fill="#437a81"/>
<rect x="153.05" y="712.67" width="3" height="3" fill="#437a81"/>
<rect x="159.3" y="713.18" width="3" height="3" fill="#437a81"/>
<rect x="165.55" y="712.17" width="3" height="3" fill="#437a81"/>
<rect x="171.8" y="686.36" width="3" height="3" fill="#437a81"/>
<rect x="178.05" y="693.45" width="3" height="3" fill="#437a81"/>
<rect x="184.3" y="705.08" width="3" height="3" fill="#437a81"/>
<rect x="190.55" y="693.45" width="3" height="3" fill="#437a81"/>
<rect x="196.8" y="691.93" width="3" height="3" fill="#437a81"/>
<rect x="203.05" y="693.45" width="3" height="3" fill="#437a81"/>
<path d="M73.3 699.5L79.55 718.22L85.8 729.86L92.05 766.29L98.3 764.27L104.55 757.18L110.8 751.11L117.05 750.61L123.3 749.59L129.55 735.43L135.8 708.1L142.05 722.27L148.3 719.74L154.55 716.2L160.8 713.67L167.05 713.16L173.3 709.62L179.55 691.91L185.8 701.52L192.05 703.55L198.3 698.49L204.55 700.01" stroke="#6a9aa0" stroke-width="0.8" fill="none" stroke-linejoin="round"/>
<path d="M73.3 698L74.65 700.4L71.95 700.4Z" fill="#578d94"/>
<path d="M79.55 716.72L80.9 719.12L78.2 719.12Z" fill="#578d94"/>
<path d="M85.8 728.36L87.15 730.76L84.45 730.76Z" fill="#578d94"/>
<path d="M92.05 764.79L93.4 767.19L90.7 767.19Z" fill="#578d94"/>
<path d="M98.3 762.77L99.65 765.17L96.95 765.17Z" fill="#578d94"/>
<path d="M104.55 755.68L105.9 758.08L103.2 758.08Z" fill="#578d94"/>
<path d="M110.8 749.61L112.15 752.01L109.45 752.01Z" fill="#578d94"/>
<path d="M117.05 749.11L118.4 751.51L115.7 751.51Z" fill="#578d94"/>
<path d="M123.3 748.09L124.65 750.49L121.95 750.49Z" fill="#578d94"/>
<path d="M129.55 733.93L130.9 736.33L128.2 736.33Z" fill="#578d94"/>
<path d="M135.8 706.6L137.15 709L134.45 709Z" fill="#578d94"/>
<path d="M142.05 720.77L143.4 723.17L140.7 723.17Z" fill="#578d94"/>
<path d="M148.3 718.24L149.65 720.64L146.95 720.64Z" fill="#578d94"/>
<path d="M154.55 714.7L155.9 717.1L153.2 717.1Z" fill="#578d94"/>
<path d="M160.8 712.17L162.15 714.57L159.45 714.57Z" fill="#578d94"/>
<path d="M167.05 711.66L168.4 714.06L165.7 714.06Z" fill="#578d94"/>
<path d="M173.3 708.12L174.65 710.52L171.95 710.52Z" fill="#578d94"/>
<path d="M179.55 690.41L180.9 692.81L178.2 692.81Z" fill="#578d94"/>
<path d="M185.8 700.02L187.15 702.42L184.45 702.42Z" fill="#578d94"/>
<path d="M192.05 702.05L193.4 704.45L190.7 704.45Z" fill="#578d94"/>
<path d="M198.3 696.99L199.65 699.39L196.95 699.39Z" fill="#578d94"/>
<path d="M204.55 698.51L205.9 700.91L203.2 700.91Z" fill="#578d94"/>
<path d="M73.3 699.5L79.55 719.74L85.8 730.87L92.05 766.29L98.3 764.27L104.55 768.82L110.8 763.76L117.05 759.71L123.3 755.67L129.55 740.99L135.8 719.74L142.05 730.37L148.3 725.31L154.55 726.82L160.8 723.79L167.05 723.28L173.3 711.14L179.55 709.62L185.8 716.7L192.05 705.57L198.3 700.51L204.55 706.08" stroke="#74a2a8" stroke-width="0.8" fill="none" stroke-linejoin="round"/>
<circle cx="73.3" cy="699.5" r="1.5" fill="#fff" fill-opacity="0.6" stroke="#5f9299" stroke-width="0.85"/>
<circle cx="79.55" cy="719.74" r="1.5" fill="#fff" fill-opacity="0.6" stroke="#5f9299" stroke-width="0.85"/>
<circle cx="85.8" cy="730.87" r="1.5" fill="#fff" fill-opacity="0.6" stroke="#5f9299" stroke-width="0.85"/>
<circle cx="92.05" cy="766.29" r="1.5" fill="#fff" fill-opacity="0.6" stroke="#5f9299" stroke-width="0.85"/>
<circle cx="98.3" cy="764.27" r="1.5" fill="#fff" fill-opacity="0.6" stroke="#5f9299" stroke-width="0.85"/>
<circle cx="104.55" cy="768.82" r="1.5" fill="#fff" fill-opacity="0.6" stroke="#5f9299" stroke-width="0.85"/>
<circle cx="110.8" cy="763.76" r="1.5" fill="#fff" fill-opacity="0.6" stroke="#5f9299" stroke-width="0.85"/>
<circle cx="117.05" cy="759.71" r="1.5" fill="#fff" fill-opacity="0.6" stroke="#5f9299" stroke-width="0.85"/>
<circle cx="123.3" cy="755.67" r="1.5" fill="#fff" fill-opacity="0.6" stroke="#5f9299" stroke-width="0.85"/>
<circle cx="129.55" cy="740.99" r="1.5" fill="#fff" fill-opacity="0.6" stroke="#5f9299" stroke-width="0.85"/>
<circle cx="135.8" cy="719.74" r="1.5" fill="#fff" fill-opacity="0.6" stroke="#5f9299" stroke-width="0.85"/>
<circle cx="142.05" cy="730.37" r="1.5" fill="#fff" fill-opacity="0.6" stroke="#5f9299" stroke-width="0.85"/>
<circle cx="148.3" cy="725.31" r="1.5" fill="#fff" fill-opacity="0.6" stroke="#5f9299" stroke-width="0.85"/>
<circle cx="154.55" cy="726.82" r="1.5" fill="#fff" fill-opacity="0.6" stroke="#5f9299" stroke-width="0.85"/>
<circle cx="160.8" cy="723.79" r="1.5" fill="#fff" fill-opacity="0.6" stroke="#5f9299" stroke-width="0.85"/>
<circle cx="167.05" cy="723.28" r="1.5" fill="#fff" fill-opacity="0.6" stroke="#5f9299" stroke-width="0.85"/>
<circle cx="173.3" cy="711.14" r="1.5" fill="#fff" fill-opacity="0.6" stroke="#5f9299" stroke-width="0.85"/>
<circle cx="179.55" cy="709.62" r="1.5" fill="#fff" fill-opacity="0.6" stroke="#5f9299" stroke-width="0.85"/>
<circle cx="185.8" cy="716.7" r="1.5" fill="#fff" fill-opacity="0.6" stroke="#5f9299" stroke-width="0.85"/>
<circle cx="192.05" cy="705.57" r="1.5" fill="#fff" fill-opacity="0.6" stroke="#5f9299" stroke-width="0.85"/>
<circle cx="198.3" cy="700.51" r="1.5" fill="#fff" fill-opacity="0.6" stroke="#5f9299" stroke-width="0.85"/>
<circle cx="204.55" cy="706.08" r="1.5" fill="#fff" fill-opacity="0.6" stroke="#5f9299" stroke-width="0.85"/>
<path d="M73.3 699.5L79.55 717.72L85.8 715.69L92.05 711.14L98.3 703.55L104.55 705.57L110.8 703.04L117.05 709.11L123.3 714.17L129.55 700.51L135.8 694.44L142.05 699.5L148.3 713.67L154.55 711.14L160.8 709.11L167.05 709.62L173.3 691.4L179.55 707.6L185.8 707.09L192.05 695.45L198.3 694.95L204.55 694.44" stroke="#222222" stroke-width="0.95" fill="none" stroke-linejoin="round"/>
<circle cx="73.3" cy="699.5" r="1.45" fill="#fff" fill-opacity="0.6" stroke="#222222" stroke-width="1.05"/>
<circle cx="79.55" cy="717.72" r="1.45" fill="#fff" fill-opacity="0.6" stroke="#222222" stroke-width="1.05"/>
<circle cx="85.8" cy="715.69" r="1.45" fill="#fff" fill-opacity="0.6" stroke="#222222" stroke-width="1.05"/>
<circle cx="92.05" cy="711.14" r="1.45" fill="#fff" fill-opacity="0.6" stroke="#222222" stroke-width="1.05"/>
<circle cx="98.3" cy="703.55" r="1.45" fill="#fff" fill-opacity="0.6" stroke="#222222" stroke-width="1.05"/>
<circle cx="104.55" cy="705.57" r="1.45" fill="#fff" fill-opacity="0.6" stroke="#222222" stroke-width="1.05"/>
<circle cx="110.8" cy="703.04" r="1.45" fill="#fff" fill-opacity="0.6" stroke="#222222" stroke-width="1.05"/>
<circle cx="117.05" cy="709.11" r="1.45" fill="#fff" fill-opacity="0.6" stroke="#222222" stroke-width="1.05"/>
<circle cx="123.3" cy="714.17" r="1.45" fill="#fff" fill-opacity="0.6" stroke="#222222" stroke-width="1.05"/>
<circle cx="129.55" cy="700.51" r="1.45" fill="#fff" fill-opacity="0.6" stroke="#222222" stroke-width="1.05"/>
<circle cx="135.8" cy="694.44" r="1.45" fill="#fff" fill-opacity="0.6" stroke="#222222" stroke-width="1.05"/>
<circle cx="142.05" cy="699.5" r="1.45" fill="#fff" fill-opacity="0.6" stroke="#222222" stroke-width="1.05"/>
<circle cx="148.3" cy="713.67" r="1.45" fill="#fff" fill-opacity="0.6" stroke="#222222" stroke-width="1.05"/>
<circle cx="154.55" cy="711.14" r="1.45" fill="#fff" fill-opacity="0.6" stroke="#222222" stroke-width="1.05"/>
<circle cx="160.8" cy="709.11" r="1.45" fill="#fff" fill-opacity="0.6" stroke="#222222" stroke-width="1.05"/>
<circle cx="167.05" cy="709.62" r="1.45" fill="#fff" fill-opacity="0.6" stroke="#222222" stroke-width="1.05"/>
<circle cx="173.3" cy="691.4" r="1.45" fill="#fff" fill-opacity="0.6" stroke="#222222" stroke-width="1.05"/>
<circle cx="179.55" cy="707.6" r="1.45" fill="#fff" fill-opacity="0.6" stroke="#222222" stroke-width="1.05"/>
<circle cx="185.8" cy="707.09" r="1.45" fill="#fff" fill-opacity="0.6" stroke="#222222" stroke-width="1.05"/>
<circle cx="192.05" cy="695.45" r="1.45" fill="#fff" fill-opacity="0.6" stroke="#222222" stroke-width="1.05"/>
<circle cx="198.3" cy="694.95" r="1.45" fill="#fff" fill-opacity="0.6" stroke="#222222" stroke-width="1.05"/>
<circle cx="204.55" cy="694.44" r="1.45" fill="#fff" fill-opacity="0.6" stroke="#222222" stroke-width="1.05"/>
<path d="M73.3 699.5L79.55 712.66L85.8 744.03L92.05 775.4L98.3 794.63" stroke="#111111" stroke-width="0.9" fill="none" stroke-linejoin="round"/>
<circle cx="73.3" cy="699.5" r="1.5" fill="#111111"/>
<circle cx="79.55" cy="712.66" r="1.5" fill="#111111"/>
<circle cx="85.8" cy="744.03" r="1.5" fill="#111111"/>
<circle cx="92.05" cy="775.4" r="1.5" fill="#111111"/>
<circle cx="98.3" cy="794.63" r="1.5" fill="#111111"/>
<g stroke="#222" stroke-width="0.9" fill="none">
<path d="M14.4 800.9H61M67.1 800.9H204.55"/>
<path d="M58.8 798.7L62.8 803.1M65.1 798.7L69 803.1" stroke-width="0.8"/>
<path d="M14.4 800.9V802.9M73.3 800.9V802.9M117.05 800.9V802.9M160.8 800.9V802.9M204.55 800.9V802.9"/>
</g>
<path d="M73.3 800.9V674.2" stroke="#888" stroke-width="1.1" fill="none"/>
<path d="M71.2 775.4H73.3M71.2 750.1H73.3M71.2 724.8H73.3M71.2 699.5H73.3M71.2 674.2H73.3" stroke="#222" stroke-width="0.95"/>
<text x="70" y="777.7" font-size="6.5" text-anchor="end" fill="#222" textLength="6.5" lengthAdjust="spacingAndGlyphs" stroke="#222" stroke-width="0.12">85</text>
<text x="70" y="752.4" font-size="6.5" text-anchor="end" fill="#222" textLength="6.5" lengthAdjust="spacingAndGlyphs" stroke="#222" stroke-width="0.12">90</text>
<text x="70" y="727.1" font-size="6.5" text-anchor="end" fill="#222" textLength="6.5" lengthAdjust="spacingAndGlyphs" stroke="#222" stroke-width="0.12">95</text>
<text x="70" y="701.8" font-size="6.5" text-anchor="end" fill="#222" textLength="9.75" lengthAdjust="spacingAndGlyphs" stroke="#222" stroke-width="0.12">100</text>
<text x="70" y="676.5" font-size="6.5" text-anchor="end" fill="#222" textLength="9.75" lengthAdjust="spacingAndGlyphs" stroke="#222" stroke-width="0.12">105</text>
<text x="14.4" y="809.9" font-size="6.5" text-anchor="middle" fill="#222" textLength="5.2" lengthAdjust="spacingAndGlyphs" stroke="#222" stroke-width="0.12">-7</text>
<text x="73.3" y="809.9" font-size="6.5" text-anchor="middle" fill="#222" textLength="3.25" lengthAdjust="spacingAndGlyphs" stroke="#222" stroke-width="0.12">0</text>
<text x="117.05" y="809.9" font-size="6.5" text-anchor="middle" fill="#222" textLength="3.25" lengthAdjust="spacingAndGlyphs" stroke="#222" stroke-width="0.12">7</text>
<text x="160.8" y="809.9" font-size="6.5" text-anchor="middle" fill="#222" textLength="6.5" lengthAdjust="spacingAndGlyphs" stroke="#222" stroke-width="0.12">14</text>
<text x="204.55" y="809.9" font-size="6.5" text-anchor="middle" fill="#222" textLength="6.5" lengthAdjust="spacingAndGlyphs" stroke="#222" stroke-width="0.12">21</text>
<text x="109.48" y="818.2" font-size="6.2" font-weight="bold" text-anchor="middle" fill="#111" textLength="50" lengthAdjust="spacingAndGlyphs" stroke="#111" stroke-width="0.16">Day post infection</text>
<text x="57.5" y="736.1" font-size="6.6" font-weight="bold" text-anchor="middle" fill="#111" textLength="49.5" lengthAdjust="spacingAndGlyphs" transform="rotate(-90 57.5 736.1)" stroke="#111" stroke-width="0.16">% Body Weight</text>
<text x="14.4" y="773.9" font-size="6.4" text-anchor="middle" fill="#5e9aa4" textLength="17.5" lengthAdjust="spacingAndGlyphs" stroke="#5e9aa4" stroke-width="0.08">CD388</text>
<text x="14.4" y="781.3" font-size="6.3" text-anchor="middle" fill="#5e9aa4" textLength="25.5" lengthAdjust="spacingAndGlyphs" stroke="#5e9aa4" stroke-width="0.08">Dose (IM)</text>
<path d="M14.4 783.6V795.9" stroke="#4f97a2" stroke-width="0.9"/>
<path d="M12.1 794.4L16.7 794.4L14.4 799.1Z" fill="#4f97a2"/>
<path d="M51.2 825.5H58.6" stroke="#222222" stroke-width="0.85"/>
<circle cx="54.9" cy="825.5" r="1.45" fill="#fff" fill-opacity="0.6" stroke="#222222" stroke-width="1.05"/>
<text x="63.8" y="827.7" font-size="6.3" text-anchor="start" fill="#222" textLength="35.8" lengthAdjust="spacingAndGlyphs" stroke="#222" stroke-width="0.1">sham-infected</text>
<path d="M51.2 835.6H58.6" stroke="#111111" stroke-width="0.85"/>
<circle cx="54.9" cy="835.6" r="1.5" fill="#111111"/>
<text x="63.8" y="837.8" font-size="6.3" text-anchor="start" fill="#222" textLength="11.42" lengthAdjust="spacingAndGlyphs" stroke="#222" stroke-width="0.1">PBS</text>
<path d="M51.2 845.4H58.6" stroke="#5b8f96" stroke-width="0.85"/>
<circle cx="54.9" cy="845.4" r="1.25" fill="#4b848b"/>
<text x="63.8" y="847.6" font-size="6.3" text-anchor="start" fill="#222" textLength="43.4" lengthAdjust="spacingAndGlyphs" stroke="#222" stroke-width="0.1">CD388 (3 mg/kg)</text>
<path d="M138.8 825.5H146.2" stroke="#568990" stroke-width="0.85"/>
<rect x="141" y="824" width="3" height="3" fill="#437a81"/>
<text x="151.7" y="827.7" font-size="6.3" text-anchor="start" fill="#222" textLength="43.4" lengthAdjust="spacingAndGlyphs" stroke="#222" stroke-width="0.1">CD388 (1 mg/kg)</text>
<path d="M138.8 835.6H146.2" stroke="#6a9aa0" stroke-width="0.85"/>
<path d="M142.5 834.1L143.85 836.5L141.15 836.5Z" fill="#578d94"/>
<text x="151.7" y="837.8" font-size="6.3" text-anchor="start" fill="#222" textLength="48.16" lengthAdjust="spacingAndGlyphs" stroke="#222" stroke-width="0.1">CD388 (0.3 mg/kg)</text>
<path d="M138.8 845.4H146.2" stroke="#74a2a8" stroke-width="0.85"/>
<circle cx="142.5" cy="845.4" r="1.5" fill="#fff" fill-opacity="0.6" stroke="#5f9299" stroke-width="0.85"/>
<text x="151.7" y="847.6" font-size="6.3" text-anchor="start" fill="#222" textLength="48.16" lengthAdjust="spacingAndGlyphs" stroke="#222" stroke-width="0.1">CD388 (0.1 mg/kg)</text>
<text x="376.65" y="662.3" font-size="9.6" font-weight="bold" text-anchor="middle" fill="#111" textLength="129.5" lengthAdjust="spacingAndGlyphs" stroke="#111" stroke-width="0.2">A/Hawaii/70/2019 (H1N1)pdm09</text>
<path d="M320 705.6H451.25" stroke="#a29c9c" stroke-width="1.05" stroke-dasharray="1.9 1.3" fill="none"/>
<path d="M320 705.6L326.25 715.4L332.5 722.66L338.75 735.94L345 734.36L351.25 727.4L357.5 719.5L363.75 720.77L370 720.77L376.25 717.29L382.5 710.34L388.75 701.81L395 705.28L401.25 699.28L407.5 707.18L413.75 704.02L420 703.7L426.25 699.91L432.5 697.38L438.75 699.28L445 697.38L451.25 699.28" stroke="#5b8f96" stroke-width="0.8" fill="none" stroke-linejoin="round"/>
<circle cx="320" cy="705.6" r="1.25" fill="#4b848b"/>
<circle cx="326.25" cy="715.4" r="1.25" fill="#4b848b"/>
<circle cx="332.5" cy="722.66" r="1.25" fill="#4b848b"/>
<circle cx="338.75" cy="735.94" r="1.25" fill="#4b848b"/>
<circle cx="345" cy="734.36" r="1.25" fill="#4b848b"/>
<circle cx="351.25" cy="727.4" r="1.25" fill="#4b848b"/>
<circle cx="357.5" cy="719.5" r="1.25" fill="#4b848b"/>
<circle cx="363.75" cy="720.77" r="1.25" fill="#4b848b"/>
<circle cx="370" cy="720.77" r="1.25" fill="#4b848b"/>
<circle cx="376.25" cy="717.29" r="1.25" fill="#4b848b"/>
<circle cx="382.5" cy="710.34" r="1.25" fill="#4b848b"/>
<circle cx="388.75" cy="701.81" r="1.25" fill="#4b848b"/>
<circle cx="395" cy="705.28" r="1.25" fill="#4b848b"/>
<circle cx="401.25" cy="699.28" r="1.25" fill="#4b848b"/>
<circle cx="407.5" cy="707.18" r="1.25" fill="#4b848b"/>
<circle cx="413.75" cy="704.02" r="1.25" fill="#4b848b"/>
<circle cx="420" cy="703.7" r="1.25" fill="#4b848b"/>
<circle cx="426.25" cy="699.91" r="1.25" fill="#4b848b"/>
<circle cx="432.5" cy="697.38" r="1.25" fill="#4b848b"/>
<circle cx="438.75" cy="699.28" r="1.25" fill="#4b848b"/>
<circle cx="445" cy="697.38" r="1.25" fill="#4b848b"/>
<circle cx="451.25" cy="699.28" r="1.25" fill="#4b848b"/>
<path d="M320 705.6L326.25 715.08L332.5 723.93L338.75 742.89L345 735.3L351.25 732.78L357.5 730.56L363.75 725.82L370 720.77L376.25 717.92L382.5 715.4L388.75 710.97L395 711.92L401.25 707.81L407.5 709.39L413.75 707.5L420 709.08L426.25 704.65L432.5 696.44L438.75 704.65L445 693.59L451.25 699.91" stroke="#568990" stroke-width="0.8" fill="none" stroke-linejoin="round"/>
<rect x="318.5" y="704.1" width="3" height="3" fill="#437a81"/>
<rect x="324.75" y="713.58" width="3" height="3" fill="#437a81"/>
<rect x="331" y="722.43" width="3" height="3" fill="#437a81"/>
<rect x="337.25" y="741.39" width="3" height="3" fill="#437a81"/>
<rect x="343.5" y="733.8" width="3" height="3" fill="#437a81"/>
<rect x="349.75" y="731.28" width="3" height="3" fill="#437a81"/>
<rect x="356" y="729.06" width="3" height="3" fill="#437a81"/>
<rect x="362.25" y="724.32" width="3" height="3" fill="#437a81"/>
<rect x="368.5" y="719.27" width="3" height="3" fill="#437a81"/>
<rect x="374.75" y="716.42" width="3" height="3" fill="#437a81"/>
<rect x="381" y="713.9" width="3" height="3" fill="#437a81"/>
<rect x="387.25" y="709.47" width="3" height="3" fill="#437a81"/>
<rect x="393.5" y="710.42" width="3" height="3" fill="#437a81"/>
<rect x="399.75" y="706.31" width="3" height="3" fill="#437a81"/>
<rect x="406" y="707.89" width="3" height="3" fill="#437a81"/>
<rect x="412.25" y="706" width="3" height="3" fill="#437a81"/>
<rect x="418.5" y="707.58" width="3" height="3" fill="#437a81"/>
<rect x="424.75" y="703.15" width="3" height="3" fill="#437a81"/>
<rect x="431" y="694.94" width="3" height="3" fill="#437a81"/>
<rect x="437.25" y="703.15" width="3" height="3" fill="#437a81"/>
<rect x="443.5" y="692.09" width="3" height="3" fill="#437a81"/>
<rect x="449.75" y="698.41" width="3" height="3" fill="#437a81"/>
<path d="M320 705.6L326.25 715.08L332.5 726.14L338.75 753.32L345 749.84L351.25 744.47L357.5 748.58" stroke="#6a9aa0" stroke-width="0.8" fill="none" stroke-linejoin="round"/>
<path d="M320 704.1L321.35 706.5L318.65 706.5Z" fill="#578d94"/>
<path d="M326.25 713.58L327.6 715.98L324.9 715.98Z" fill="#578d94"/>
<path d="M332.5 724.64L333.85 727.04L331.15 727.04Z" fill="#578d94"/>
<path d="M338.75 751.82L340.1 754.22L337.4 754.22Z" fill="#578d94"/>
<path d="M345 748.34L346.35 750.74L343.65 750.74Z" fill="#578d94"/>
<path d="M351.25 742.97L352.6 745.37L349.9 745.37Z" fill="#578d94"/>
<path d="M357.5 747.08L358.85 749.48L356.15 749.48Z" fill="#578d94"/>
<path d="M320 705.6L326.25 715.08L332.5 727.72L338.75 747.63L345 741.94L351.25 736.57L357.5 737.52L363.75 742.89L370 736.57L376.25 737.2L382.5 722.03L388.75 717.29L395 718.24L401.25 710.97L407.5 716.03L413.75 714.13L420 714.13L426.25 712.87L432.5 705.92L438.75 711.6L445 701.18L451.25 705.92" stroke="#74a2a8" stroke-width="0.8" fill="none" stroke-linejoin="round"/>
<circle cx="320" cy="705.6" r="1.5" fill="#fff" fill-opacity="0.6" stroke="#5f9299" stroke-width="0.85"/>
<circle cx="326.25" cy="715.08" r="1.5" fill="#fff" fill-opacity="0.6" stroke="#5f9299" stroke-width="0.85"/>
<circle cx="332.5" cy="727.72" r="1.5" fill="#fff" fill-opacity="0.6" stroke="#5f9299" stroke-width="0.85"/>
<circle cx="338.75" cy="747.63" r="1.5" fill="#fff" fill-opacity="0.6" stroke="#5f9299" stroke-width="0.85"/>
<circle cx="345" cy="741.94" r="1.5" fill="#fff" fill-opacity="0.6" stroke="#5f9299" stroke-width="0.85"/>
<circle cx="351.25" cy="736.57" r="1.5" fill="#fff" fill-opacity="0.6" stroke="#5f9299" stroke-width="0.85"/>
<circle cx="357.5" cy="737.52" r="1.5" fill="#fff" fill-opacity="0.6" stroke="#5f9299" stroke-width="0.85"/>
<circle cx="363.75" cy="742.89" r="1.5" fill="#fff" fill-opacity="0.6" stroke="#5f9299" stroke-width="0.85"/>
<circle cx="370" cy="736.57" r="1.5" fill="#fff" fill-opacity="0.6" stroke="#5f9299" stroke-width="0.85"/>
<circle cx="376.25" cy="737.2" r="1.5" fill="#fff" fill-opacity="0.6" stroke="#5f9299" stroke-width="0.85"/>
<circle cx="382.5" cy="722.03" r="1.5" fill="#fff" fill-opacity="0.6" stroke="#5f9299" stroke-width="0.85"/>
<circle cx="388.75" cy="717.29" r="1.5" fill="#fff" fill-opacity="0.6" stroke="#5f9299" stroke-width="0.85"/>
<circle cx="395" cy="718.24" r="1.5" fill="#fff" fill-opacity="0.6" stroke="#5f9299" stroke-width="0.85"/>
<circle cx="401.25" cy="710.97" r="1.5" fill="#fff" fill-opacity="0.6" stroke="#5f9299" stroke-width="0.85"/>
<circle cx="407.5" cy="716.03" r="1.5" fill="#fff" fill-opacity="0.6" stroke="#5f9299" stroke-width="0.85"/>
<circle cx="413.75" cy="714.13" r="1.5" fill="#fff" fill-opacity="0.6" stroke="#5f9299" stroke-width="0.85"/>
<circle cx="420" cy="714.13" r="1.5" fill="#fff" fill-opacity="0.6" stroke="#5f9299" stroke-width="0.85"/>
<circle cx="426.25" cy="712.87" r="1.5" fill="#fff" fill-opacity="0.6" stroke="#5f9299" stroke-width="0.85"/>
<circle cx="432.5" cy="705.92" r="1.5" fill="#fff" fill-opacity="0.6" stroke="#5f9299" stroke-width="0.85"/>
<circle cx="438.75" cy="711.6" r="1.5" fill="#fff" fill-opacity="0.6" stroke="#5f9299" stroke-width="0.85"/>
<circle cx="445" cy="701.18" r="1.5" fill="#fff" fill-opacity="0.6" stroke="#5f9299" stroke-width="0.85"/>
<circle cx="451.25" cy="705.92" r="1.5" fill="#fff" fill-opacity="0.6" stroke="#5f9299" stroke-width="0.85"/>
<path d="M320 705.6L326.25 715.08L332.5 726.14L338.75 743.84L345 735.3L351.25 732.14L357.5 731.83L363.75 746.68L370 735.94L376.25 736.57L382.5 719.82L388.75 715.08L395 713.5L401.25 708.76L407.5 713.5L413.75 710.34L420 711.29L426.25 708.76L432.5 702.44L438.75 707.18L445 698.65L451.25 703.07" stroke="#7ea9ae" stroke-width="0.8" fill="none" stroke-linejoin="round"/>
<rect x="318.55" y="704.15" width="2.9" height="2.9" fill="#fff" fill-opacity="0.6" stroke="#6a9aa0" stroke-width="0.85"/>
<rect x="324.8" y="713.63" width="2.9" height="2.9" fill="#fff" fill-opacity="0.6" stroke="#6a9aa0" stroke-width="0.85"/>
<rect x="331.05" y="724.69" width="2.9" height="2.9" fill="#fff" fill-opacity="0.6" stroke="#6a9aa0" stroke-width="0.85"/>
<rect x="337.3" y="742.39" width="2.9" height="2.9" fill="#fff" fill-opacity="0.6" stroke="#6a9aa0" stroke-width="0.85"/>
<rect x="343.55" y="733.85" width="2.9" height="2.9" fill="#fff" fill-opacity="0.6" stroke="#6a9aa0" stroke-width="0.85"/>
<rect x="349.8" y="730.69" width="2.9" height="2.9" fill="#fff" fill-opacity="0.6" stroke="#6a9aa0" stroke-width="0.85"/>
<rect x="356.05" y="730.38" width="2.9" height="2.9" fill="#fff" fill-opacity="0.6" stroke="#6a9aa0" stroke-width="0.85"/>
<rect x="362.3" y="745.23" width="2.9" height="2.9" fill="#fff" fill-opacity="0.6" stroke="#6a9aa0" stroke-width="0.85"/>
<rect x="368.55" y="734.49" width="2.9" height="2.9" fill="#fff" fill-opacity="0.6" stroke="#6a9aa0" stroke-width="0.85"/>
<rect x="374.8" y="735.12" width="2.9" height="2.9" fill="#fff" fill-opacity="0.6" stroke="#6a9aa0" stroke-width="0.85"/>
<rect x="381.05" y="718.37" width="2.9" height="2.9" fill="#fff" fill-opacity="0.6" stroke="#6a9aa0" stroke-width="0.85"/>
<rect x="387.3" y="713.63" width="2.9" height="2.9" fill="#fff" fill-opacity="0.6" stroke="#6a9aa0" stroke-width="0.85"/>
<rect x="393.55" y="712.05" width="2.9" height="2.9" fill="#fff" fill-opacity="0.6" stroke="#6a9aa0" stroke-width="0.85"/>
<rect x="399.8" y="707.31" width="2.9" height="2.9" fill="#fff" fill-opacity="0.6" stroke="#6a9aa0" stroke-width="0.85"/>
<rect x="406.05" y="712.05" width="2.9" height="2.9" fill="#fff" fill-opacity="0.6" stroke="#6a9aa0" stroke-width="0.85"/>
<rect x="412.3" y="708.89" width="2.9" height="2.9" fill="#fff" fill-opacity="0.6" stroke="#6a9aa0" stroke-width="0.85"/>
<rect x="418.55" y="709.84" width="2.9" height="2.9" fill="#fff" fill-opacity="0.6" stroke="#6a9aa0" stroke-width="0.85"/>
<rect x="424.8" y="707.31" width="2.9" height="2.9" fill="#fff" fill-opacity="0.6" stroke="#6a9aa0" stroke-width="0.85"/>
<rect x="431.05" y="700.99" width="2.9" height="2.9" fill="#fff" fill-opacity="0.6" stroke="#6a9aa0" stroke-width="0.85"/>
<rect x="437.3" y="705.73" width="2.9" height="2.9" fill="#fff" fill-opacity="0.6" stroke="#6a9aa0" stroke-width="0.85"/>
<rect x="443.55" y="697.2" width="2.9" height="2.9" fill="#fff" fill-opacity="0.6" stroke="#6a9aa0" stroke-width="0.85"/>
<rect x="449.8" y="701.62" width="2.9" height="2.9" fill="#fff" fill-opacity="0.6" stroke="#6a9aa0" stroke-width="0.85"/>
<path d="M320 705.6L326.25 712.55L332.5 732.46L338.75 754.58" stroke="#9a9a9a" stroke-width="0.8" fill="none" stroke-linejoin="round"/>
<circle cx="320" cy="705.6" r="1.5" fill="#9a9a9a"/>
<circle cx="326.25" cy="712.55" r="1.5" fill="#9a9a9a"/>
<circle cx="332.5" cy="732.46" r="1.5" fill="#9a9a9a"/>
<circle cx="338.75" cy="754.58" r="1.5" fill="#9a9a9a"/>
<path d="M320 705.6L326.25 709.08L332.5 712.24L338.75 709.08L345 702.76L351.25 703.07L357.5 707.81L363.75 700.23L370 699.91L376.25 700.54L382.5 698.33L388.75 700.54L395 698.02L401.25 697.07L407.5 703.39L413.75 701.81L420 699.91L426.25 697.07L432.5 689.8L438.75 697.38L445 687.59L451.25 691.7" stroke="#222222" stroke-width="0.95" fill="none" stroke-linejoin="round"/>
<circle cx="320" cy="705.6" r="1.45" fill="#fff" fill-opacity="0.6" stroke="#222222" stroke-width="1.05"/>
<circle cx="326.25" cy="709.08" r="1.45" fill="#fff" fill-opacity="0.6" stroke="#222222" stroke-width="1.05"/>
<circle cx="332.5" cy="712.24" r="1.45" fill="#fff" fill-opacity="0.6" stroke="#222222" stroke-width="1.05"/>
<circle cx="338.75" cy="709.08" r="1.45" fill="#fff" fill-opacity="0.6" stroke="#222222" stroke-width="1.05"/>
<circle cx="345" cy="702.76" r="1.45" fill="#fff" fill-opacity="0.6" stroke="#222222" stroke-width="1.05"/>
<circle cx="351.25" cy="703.07" r="1.45" fill="#fff" fill-opacity="0.6" stroke="#222222" stroke-width="1.05"/>
<circle cx="357.5" cy="707.81" r="1.45" fill="#fff" fill-opacity="0.6" stroke="#222222" stroke-width="1.05"/>
<circle cx="363.75" cy="700.23" r="1.45" fill="#fff" fill-opacity="0.6" stroke="#222222" stroke-width="1.05"/>
<circle cx="370" cy="699.91" r="1.45" fill="#fff" fill-opacity="0.6" stroke="#222222" stroke-width="1.05"/>
<circle cx="376.25" cy="700.54" r="1.45" fill="#fff" fill-opacity="0.6" stroke="#222222" stroke-width="1.05"/>
<circle cx="382.5" cy="698.33" r="1.45" fill="#fff" fill-opacity="0.6" stroke="#222222" stroke-width="1.05"/>
<circle cx="388.75" cy="700.54" r="1.45" fill="#fff" fill-opacity="0.6" stroke="#222222" stroke-width="1.05"/>
<circle cx="395" cy="698.02" r="1.45" fill="#fff" fill-opacity="0.6" stroke="#222222" stroke-width="1.05"/>
<circle cx="401.25" cy="697.07" r="1.45" fill="#fff" fill-opacity="0.6" stroke="#222222" stroke-width="1.05"/>
<circle cx="407.5" cy="703.39" r="1.45" fill="#fff" fill-opacity="0.6" stroke="#222222" stroke-width="1.05"/>
<circle cx="413.75" cy="701.81" r="1.45" fill="#fff" fill-opacity="0.6" stroke="#222222" stroke-width="1.05"/>
<circle cx="420" cy="699.91" r="1.45" fill="#fff" fill-opacity="0.6" stroke="#222222" stroke-width="1.05"/>
<circle cx="426.25" cy="697.07" r="1.45" fill="#fff" fill-opacity="0.6" stroke="#222222" stroke-width="1.05"/>
<circle cx="432.5" cy="689.8" r="1.45" fill="#fff" fill-opacity="0.6" stroke="#222222" stroke-width="1.05"/>
<circle cx="438.75" cy="697.38" r="1.45" fill="#fff" fill-opacity="0.6" stroke="#222222" stroke-width="1.05"/>
<circle cx="445" cy="687.59" r="1.45" fill="#fff" fill-opacity="0.6" stroke="#222222" stroke-width="1.05"/>
<circle cx="451.25" cy="691.7" r="1.45" fill="#fff" fill-opacity="0.6" stroke="#222222" stroke-width="1.05"/>
<path d="M320 705.6L326.25 713.18L332.5 735.3L338.75 761.85L345 773.54" stroke="#111111" stroke-width="0.9" fill="none" stroke-linejoin="round"/>
<circle cx="320" cy="705.6" r="1.5" fill="#111111"/>
<circle cx="326.25" cy="713.18" r="1.5" fill="#111111"/>
<circle cx="332.5" cy="735.3" r="1.5" fill="#111111"/>
<circle cx="338.75" cy="761.85" r="1.5" fill="#111111"/>
<circle cx="345" cy="773.54" r="1.5" fill="#111111"/>
<g stroke="#222" stroke-width="0.9" fill="none">
<path d="M261.2 800.6H307.7M313.8 800.6H451.25"/>
<path d="M305.5 798.4L309.5 802.8M311.8 798.4L315.7 802.8" stroke-width="0.8"/>
<path d="M261.2 800.6V802.6M320 800.6V802.6M363.75 800.6V802.6M407.5 800.6V802.6M451.25 800.6V802.6"/>
</g>
<path d="M320 800.6V674" stroke="#888" stroke-width="1.1" fill="none"/>
<path d="M317.9 768.8H320M317.9 737.2H320M317.9 705.6H320M317.9 674H320" stroke="#222" stroke-width="0.95"/>
<text x="316.7" y="771.1" font-size="6.5" text-anchor="end" fill="#222" textLength="6.5" lengthAdjust="spacingAndGlyphs" stroke="#222" stroke-width="0.12">80</text>
<text x="316.7" y="739.5" font-size="6.5" text-anchor="end" fill="#222" textLength="6.5" lengthAdjust="spacingAndGlyphs" stroke="#222" stroke-width="0.12">90</text>
<text x="316.7" y="707.9" font-size="6.5" text-anchor="end" fill="#222" textLength="9.75" lengthAdjust="spacingAndGlyphs" stroke="#222" stroke-width="0.12">100</text>
<text x="316.7" y="676.3" font-size="6.5" text-anchor="end" fill="#222" textLength="9.75" lengthAdjust="spacingAndGlyphs" stroke="#222" stroke-width="0.12">110</text>
<text x="261.2" y="809.6" font-size="6.5" text-anchor="middle" fill="#222" textLength="5.2" lengthAdjust="spacingAndGlyphs" stroke="#222" stroke-width="0.12">-7</text>
<text x="320" y="809.6" font-size="6.5" text-anchor="middle" fill="#222" textLength="3.25" lengthAdjust="spacingAndGlyphs" stroke="#222" stroke-width="0.12">0</text>
<text x="363.75" y="809.6" font-size="6.5" text-anchor="middle" fill="#222" textLength="3.25" lengthAdjust="spacingAndGlyphs" stroke="#222" stroke-width="0.12">7</text>
<text x="407.5" y="809.6" font-size="6.5" text-anchor="middle" fill="#222" textLength="6.5" lengthAdjust="spacingAndGlyphs" stroke="#222" stroke-width="0.12">14</text>
<text x="451.25" y="809.6" font-size="6.5" text-anchor="middle" fill="#222" textLength="6.5" lengthAdjust="spacingAndGlyphs" stroke="#222" stroke-width="0.12">21</text>
<text x="356.23" y="817.9" font-size="6.2" font-weight="bold" text-anchor="middle" fill="#111" textLength="50" lengthAdjust="spacingAndGlyphs" stroke="#111" stroke-width="0.16">Day post infection</text>
<text x="304" y="735.8" font-size="6.6" font-weight="bold" text-anchor="middle" fill="#111" textLength="49.3" lengthAdjust="spacingAndGlyphs" transform="rotate(-90 304 735.8)" stroke="#111" stroke-width="0.16">% Body Weight</text>
<text x="261.2" y="773.6" font-size="6.4" text-anchor="middle" fill="#5e9aa4" textLength="17.5" lengthAdjust="spacingAndGlyphs" stroke="#5e9aa4" stroke-width="0.08">CD388</text>
<text x="261.2" y="781" font-size="6.3" text-anchor="middle" fill="#5e9aa4" textLength="25.5" lengthAdjust="spacingAndGlyphs" stroke="#5e9aa4" stroke-width="0.08">Dose (IM)</text>
<path d="M261.2 783.3V795.6" stroke="#4f97a2" stroke-width="0.9"/>
<path d="M258.9 794.1L263.5 794.1L261.2 798.8Z" fill="#4f97a2"/>
<path d="M261.5 826.1H268.9" stroke="#222222" stroke-width="0.85"/>
<circle cx="265.2" cy="826.1" r="1.45" fill="#fff" fill-opacity="0.6" stroke="#222222" stroke-width="1.05"/>
<text x="273.1" y="828.3" font-size="6.3" text-anchor="start" fill="#222" textLength="35.18" lengthAdjust="spacingAndGlyphs" stroke="#222" stroke-width="0.1">sham-infected</text>
<path d="M261.5 836.3H268.9" stroke="#111111" stroke-width="0.85"/>
<circle cx="265.2" cy="836.3" r="1.5" fill="#111111"/>
<text x="273.1" y="838.5" font-size="6.3" text-anchor="start" fill="#222" textLength="11.22" lengthAdjust="spacingAndGlyphs" stroke="#222" stroke-width="0.1">PBS</text>
<path d="M261.5 846H268.9" stroke="#9a9a9a" stroke-width="0.85"/>
<circle cx="265.2" cy="846" r="1.5" fill="#9a9a9a"/>
<text x="273.1" y="848.2" font-size="6.3" text-anchor="start" fill="#222" textLength="48.24" lengthAdjust="spacingAndGlyphs" stroke="#222" stroke-width="0.1">hIgG1 Fc (3 mg/kg)</text>
<path d="M327.2 826.1H334.6" stroke="#5b8f96" stroke-width="0.85"/>
<circle cx="330.9" cy="826.1" r="1.25" fill="#4b848b"/>
<text x="338.2" y="828.3" font-size="6.3" text-anchor="start" fill="#222" textLength="42.64" lengthAdjust="spacingAndGlyphs" stroke="#222" stroke-width="0.1">CD388 (3 mg/kg)</text>
<path d="M327.2 836.3H334.6" stroke="#568990" stroke-width="0.85"/>
<rect x="329.4" y="834.8" width="3" height="3" fill="#437a81"/>
<text x="338.2" y="838.5" font-size="6.3" text-anchor="start" fill="#222" textLength="42.64" lengthAdjust="spacingAndGlyphs" stroke="#222" stroke-width="0.1">CD388 (1 mg/kg)</text>
<path d="M327.2 846H334.6" stroke="#6a9aa0" stroke-width="0.85"/>
<path d="M330.9 844.5L332.25 846.9L329.55 846.9Z" fill="#578d94"/>
<text x="338.2" y="848.2" font-size="6.3" text-anchor="start" fill="#222" textLength="47.31" lengthAdjust="spacingAndGlyphs" stroke="#222" stroke-width="0.1">CD388 (0.3 mg/kg)</text>
<path d="M394.4 826.1H401.8" stroke="#74a2a8" stroke-width="0.85"/>
<circle cx="398.1" cy="826.1" r="1.5" fill="#fff" fill-opacity="0.6" stroke="#5f9299" stroke-width="0.85"/>
<text x="404.5" y="828.3" font-size="6.3" text-anchor="start" fill="#222" textLength="47.31" lengthAdjust="spacingAndGlyphs" stroke="#222" stroke-width="0.1">CD388 (0.1 mg/kg)</text>
<path d="M394.4 836.3H401.8" stroke="#7ea9ae" stroke-width="0.85"/>
<rect x="396.65" y="834.85" width="2.9" height="2.9" fill="#fff" fill-opacity="0.6" stroke="#6a9aa0" stroke-width="0.85"/>
<text x="404.5" y="838.5" font-size="6.3" text-anchor="start" fill="#222" textLength="50.42" lengthAdjust="spacingAndGlyphs" stroke="#222" stroke-width="0.1">CD388 (0.03 mg/kg)</text>
<text x="600.6" y="663.4" font-size="9.6" font-weight="bold" text-anchor="middle" fill="#111" textLength="116.6" lengthAdjust="spacingAndGlyphs" stroke="#111" stroke-width="0.2">B/Colorado/6/2017 (Victoria)</text>
<path d="M544.8 705.6H675.84" stroke="#a29c9c" stroke-width="1.05" stroke-dasharray="1.9 1.3" fill="none"/>
<path d="M544.8 705.6L551.04 699.22L557.28 696.99L563.52 708.79L569.76 706.88L576 722.83L582.24 720.91L588.48 724.1L594.72 710.38L600.96 712.3L607.2 708.47L613.44 705.6L619.68 710.7L625.92 714.85L632.16 709.43L638.4 705.6L644.64 707.2L650.88 713.26L657.12 706.88L663.36 705.28L669.6 699.22L675.84 703.37" stroke="#568990" stroke-width="0.8" fill="none" stroke-linejoin="round"/>
<rect x="543.3" y="704.1" width="3" height="3" fill="#437a81"/>
<rect x="549.54" y="697.72" width="3" height="3" fill="#437a81"/>
<rect x="555.78" y="695.49" width="3" height="3" fill="#437a81"/>
<rect x="562.02" y="707.29" width="3" height="3" fill="#437a81"/>
<rect x="568.26" y="705.38" width="3" height="3" fill="#437a81"/>
<rect x="574.5" y="721.33" width="3" height="3" fill="#437a81"/>
<rect x="580.74" y="719.41" width="3" height="3" fill="#437a81"/>
<rect x="586.98" y="722.6" width="3" height="3" fill="#437a81"/>
<rect x="593.22" y="708.88" width="3" height="3" fill="#437a81"/>
<rect x="599.46" y="710.8" width="3" height="3" fill="#437a81"/>
<rect x="605.7" y="706.97" width="3" height="3" fill="#437a81"/>
<rect x="611.94" y="704.1" width="3" height="3" fill="#437a81"/>
<rect x="618.18" y="709.2" width="3" height="3" fill="#437a81"/>
<rect x="624.42" y="713.35" width="3" height="3" fill="#437a81"/>
<rect x="630.66" y="707.93" width="3" height="3" fill="#437a81"/>
<rect x="636.9" y="704.1" width="3" height="3" fill="#437a81"/>
<rect x="643.14" y="705.7" width="3" height="3" fill="#437a81"/>
<rect x="649.38" y="711.76" width="3" height="3" fill="#437a81"/>
<rect x="655.62" y="705.38" width="3" height="3" fill="#437a81"/>
<rect x="661.86" y="703.78" width="3" height="3" fill="#437a81"/>
<rect x="668.1" y="697.72" width="3" height="3" fill="#437a81"/>
<rect x="674.34" y="701.87" width="3" height="3" fill="#437a81"/>
<path d="M544.8 705.6L551.04 696.03L557.28 697.62L563.52 708.79L569.76 721.55L576 737.18L582.24 749.3" stroke="#6a9aa0" stroke-width="0.8" fill="none" stroke-linejoin="round"/>
<path d="M544.8 704.1L546.15 706.5L543.45 706.5Z" fill="#578d94"/>
<path d="M551.04 694.53L552.39 696.93L549.69 696.93Z" fill="#578d94"/>
<path d="M557.28 696.12L558.63 698.52L555.93 698.52Z" fill="#578d94"/>
<path d="M563.52 707.29L564.87 709.69L562.17 709.69Z" fill="#578d94"/>
<path d="M569.76 720.05L571.11 722.45L568.41 722.45Z" fill="#578d94"/>
<path d="M576 735.68L577.35 738.08L574.65 738.08Z" fill="#578d94"/>
<path d="M582.24 747.8L583.59 750.2L580.89 750.2Z" fill="#578d94"/>
<path d="M544.8 705.6L551.04 691.25L557.28 697.31L563.52 719L569.76 726.97L576 747.39L582.24 762.38" stroke="#74a2a8" stroke-width="0.8" fill="none" stroke-linejoin="round"/>
<circle cx="544.8" cy="705.6" r="1.5" fill="#fff" fill-opacity="0.6" stroke="#5f9299" stroke-width="0.85"/>
<circle cx="551.04" cy="691.25" r="1.5" fill="#fff" fill-opacity="0.6" stroke="#5f9299" stroke-width="0.85"/>
<circle cx="557.28" cy="697.31" r="1.5" fill="#fff" fill-opacity="0.6" stroke="#5f9299" stroke-width="0.85"/>
<circle cx="563.52" cy="719" r="1.5" fill="#fff" fill-opacity="0.6" stroke="#5f9299" stroke-width="0.85"/>
<circle cx="569.76" cy="726.97" r="1.5" fill="#fff" fill-opacity="0.6" stroke="#5f9299" stroke-width="0.85"/>
<circle cx="576" cy="747.39" r="1.5" fill="#fff" fill-opacity="0.6" stroke="#5f9299" stroke-width="0.85"/>
<circle cx="582.24" cy="762.38" r="1.5" fill="#fff" fill-opacity="0.6" stroke="#5f9299" stroke-width="0.85"/>
<path d="M544.8 705.6L551.04 697.62L557.28 697.94L563.52 723.14L569.76 733.35L576 755.36L582.24 772.59" stroke="#7ea9ae" stroke-width="0.8" fill="none" stroke-linejoin="round"/>
<rect x="543.35" y="704.15" width="2.9" height="2.9" fill="#fff" fill-opacity="0.6" stroke="#6a9aa0" stroke-width="0.85"/>
<rect x="549.59" y="696.17" width="2.9" height="2.9" fill="#fff" fill-opacity="0.6" stroke="#6a9aa0" stroke-width="0.85"/>
<rect x="555.83" y="696.49" width="2.9" height="2.9" fill="#fff" fill-opacity="0.6" stroke="#6a9aa0" stroke-width="0.85"/>
<rect x="562.07" y="721.69" width="2.9" height="2.9" fill="#fff" fill-opacity="0.6" stroke="#6a9aa0" stroke-width="0.85"/>
<rect x="568.31" y="731.9" width="2.9" height="2.9" fill="#fff" fill-opacity="0.6" stroke="#6a9aa0" stroke-width="0.85"/>
<rect x="574.55" y="753.91" width="2.9" height="2.9" fill="#fff" fill-opacity="0.6" stroke="#6a9aa0" stroke-width="0.85"/>
<rect x="580.79" y="771.14" width="2.9" height="2.9" fill="#fff" fill-opacity="0.6" stroke="#6a9aa0" stroke-width="0.85"/>
<path d="M544.8 705.6L551.04 695.71L557.28 701.13L563.52 700.5L569.76 689.33L576 698.58L582.24 693.16L588.48 699.86L594.72 690.29L600.96 697.31L607.2 696.03L613.44 687.74L619.68 689.01L625.92 696.67L632.16 694.12L638.4 693.48L644.64 693.8L650.88 689.65L657.12 692.84L663.36 687.74L669.6 682.95L675.84 685.18" stroke="#222222" stroke-width="0.95" fill="none" stroke-linejoin="round"/>
<circle cx="544.8" cy="705.6" r="1.45" fill="#fff" fill-opacity="0.6" stroke="#222222" stroke-width="1.05"/>
<circle cx="551.04" cy="695.71" r="1.45" fill="#fff" fill-opacity="0.6" stroke="#222222" stroke-width="1.05"/>
<circle cx="557.28" cy="701.13" r="1.45" fill="#fff" fill-opacity="0.6" stroke="#222222" stroke-width="1.05"/>
<circle cx="563.52" cy="700.5" r="1.45" fill="#fff" fill-opacity="0.6" stroke="#222222" stroke-width="1.05"/>
<circle cx="569.76" cy="689.33" r="1.45" fill="#fff" fill-opacity="0.6" stroke="#222222" stroke-width="1.05"/>
<circle cx="576" cy="698.58" r="1.45" fill="#fff" fill-opacity="0.6" stroke="#222222" stroke-width="1.05"/>
<circle cx="582.24" cy="693.16" r="1.45" fill="#fff" fill-opacity="0.6" stroke="#222222" stroke-width="1.05"/>
<circle cx="588.48" cy="699.86" r="1.45" fill="#fff" fill-opacity="0.6" stroke="#222222" stroke-width="1.05"/>
<circle cx="594.72" cy="690.29" r="1.45" fill="#fff" fill-opacity="0.6" stroke="#222222" stroke-width="1.05"/>
<circle cx="600.96" cy="697.31" r="1.45" fill="#fff" fill-opacity="0.6" stroke="#222222" stroke-width="1.05"/>
<circle cx="607.2" cy="696.03" r="1.45" fill="#fff" fill-opacity="0.6" stroke="#222222" stroke-width="1.05"/>
<circle cx="613.44" cy="687.74" r="1.45" fill="#fff" fill-opacity="0.6" stroke="#222222" stroke-width="1.05"/>
<circle cx="619.68" cy="689.01" r="1.45" fill="#fff" fill-opacity="0.6" stroke="#222222" stroke-width="1.05"/>
<circle cx="625.92" cy="696.67" r="1.45" fill="#fff" fill-opacity="0.6" stroke="#222222" stroke-width="1.05"/>
<circle cx="632.16" cy="694.12" r="1.45" fill="#fff" fill-opacity="0.6" stroke="#222222" stroke-width="1.05"/>
<circle cx="638.4" cy="693.48" r="1.45" fill="#fff" fill-opacity="0.6" stroke="#222222" stroke-width="1.05"/>
<circle cx="644.64" cy="693.8" r="1.45" fill="#fff" fill-opacity="0.6" stroke="#222222" stroke-width="1.05"/>
<circle cx="650.88" cy="689.65" r="1.45" fill="#fff" fill-opacity="0.6" stroke="#222222" stroke-width="1.05"/>
<circle cx="657.12" cy="692.84" r="1.45" fill="#fff" fill-opacity="0.6" stroke="#222222" stroke-width="1.05"/>
<circle cx="663.36" cy="687.74" r="1.45" fill="#fff" fill-opacity="0.6" stroke="#222222" stroke-width="1.05"/>
<circle cx="669.6" cy="682.95" r="1.45" fill="#fff" fill-opacity="0.6" stroke="#222222" stroke-width="1.05"/>
<circle cx="675.84" cy="685.18" r="1.45" fill="#fff" fill-opacity="0.6" stroke="#222222" stroke-width="1.05"/>
<path d="M544.8 705.6L551.04 696.35L557.28 700.5L563.52 733.35L569.76 744.84L576 769.4" stroke="#111111" stroke-width="0.9" fill="none" stroke-linejoin="round"/>
<circle cx="544.8" cy="705.6" r="1.5" fill="#111111"/>
<circle cx="551.04" cy="696.35" r="1.5" fill="#111111"/>
<circle cx="557.28" cy="700.5" r="1.5" fill="#111111"/>
<circle cx="563.52" cy="733.35" r="1.5" fill="#111111"/>
<circle cx="569.76" cy="744.84" r="1.5" fill="#111111"/>
<circle cx="576" cy="769.4" r="1.5" fill="#111111"/>
<g stroke="#222" stroke-width="0.9" fill="none">
<path d="M486.3 800.8H532.5M538.6 800.8H675.84"/>
<path d="M530.3 798.6L534.3 803M536.6 798.6L540.5 803" stroke-width="0.8"/>
<path d="M486.3 800.8V802.8M544.8 800.8V802.8M588.48 800.8V802.8M632.16 800.8V802.8M675.84 800.8V802.8"/>
</g>
<path d="M544.8 800.8V673.7" stroke="#444" stroke-width="1.1" fill="none"/>
<path d="M542.7 769.4H544.8M542.7 737.5H544.8M542.7 705.6H544.8M542.7 673.7H544.8" stroke="#222" stroke-width="0.95"/>
<text x="541.5" y="771.7" font-size="6.5" text-anchor="end" fill="#222" textLength="6.5" lengthAdjust="spacingAndGlyphs" stroke="#222" stroke-width="0.12">80</text>
<text x="541.5" y="739.8" font-size="6.5" text-anchor="end" fill="#222" textLength="6.5" lengthAdjust="spacingAndGlyphs" stroke="#222" stroke-width="0.12">90</text>
<text x="541.5" y="707.9" font-size="6.5" text-anchor="end" fill="#222" textLength="9.75" lengthAdjust="spacingAndGlyphs" stroke="#222" stroke-width="0.12">100</text>
<text x="541.5" y="676" font-size="6.5" text-anchor="end" fill="#222" textLength="9.75" lengthAdjust="spacingAndGlyphs" stroke="#222" stroke-width="0.12">110</text>
<text x="486.3" y="809.8" font-size="6.5" text-anchor="middle" fill="#222" textLength="5.2" lengthAdjust="spacingAndGlyphs" stroke="#222" stroke-width="0.12">-7</text>
<text x="544.8" y="809.8" font-size="6.5" text-anchor="middle" fill="#222" textLength="3.25" lengthAdjust="spacingAndGlyphs" stroke="#222" stroke-width="0.12">0</text>
<text x="588.48" y="809.8" font-size="6.5" text-anchor="middle" fill="#222" textLength="3.25" lengthAdjust="spacingAndGlyphs" stroke="#222" stroke-width="0.12">7</text>
<text x="632.16" y="809.8" font-size="6.5" text-anchor="middle" fill="#222" textLength="6.5" lengthAdjust="spacingAndGlyphs" stroke="#222" stroke-width="0.12">14</text>
<text x="675.84" y="809.8" font-size="6.5" text-anchor="middle" fill="#222" textLength="6.5" lengthAdjust="spacingAndGlyphs" stroke="#222" stroke-width="0.12">21</text>
<text x="581.07" y="818.1" font-size="6.2" font-weight="bold" text-anchor="middle" fill="#111" textLength="50" lengthAdjust="spacingAndGlyphs" stroke="#111" stroke-width="0.16">Day post infection</text>
<text x="528.8" y="730.5" font-size="6.6" font-weight="bold" text-anchor="middle" fill="#111" textLength="49.3" lengthAdjust="spacingAndGlyphs" transform="rotate(-90 528.8 730.5)" stroke="#111" stroke-width="0.16">% Body Weight</text>
<text x="486.3" y="773.8" font-size="6.4" text-anchor="middle" fill="#5e9aa4" textLength="17.5" lengthAdjust="spacingAndGlyphs" stroke="#5e9aa4" stroke-width="0.08">CD388</text>
<text x="486.3" y="781.2" font-size="6.3" text-anchor="middle" fill="#5e9aa4" textLength="25.5" lengthAdjust="spacingAndGlyphs" stroke="#5e9aa4" stroke-width="0.08">Dose (IM)</text>
<path d="M486.3 783.5V795.8" stroke="#4f97a2" stroke-width="0.9"/>
<path d="M484 794.3L488.6 794.3L486.3 799Z" fill="#4f97a2"/>
<path d="M546.3 825.5H553.7" stroke="#222222" stroke-width="0.85"/>
<circle cx="550" cy="825.5" r="1.45" fill="#fff" fill-opacity="0.6" stroke="#222222" stroke-width="1.05"/>
<text x="557.7" y="827.7" font-size="6.3" text-anchor="start" fill="#222" textLength="35.8" lengthAdjust="spacingAndGlyphs" stroke="#222" stroke-width="0.1">sham-infected</text>
<path d="M546.3 835.6H553.7" stroke="#111111" stroke-width="0.85"/>
<circle cx="550" cy="835.6" r="1.5" fill="#111111"/>
<text x="557.7" y="837.8" font-size="6.3" text-anchor="start" fill="#222" textLength="11.42" lengthAdjust="spacingAndGlyphs" stroke="#222" stroke-width="0.1">PBS</text>
<path d="M546.3 845.4H553.7" stroke="#568990" stroke-width="0.85"/>
<rect x="548.5" y="843.9" width="3" height="3" fill="#437a81"/>
<text x="557.7" y="847.6" font-size="6.3" text-anchor="start" fill="#222" textLength="43.4" lengthAdjust="spacingAndGlyphs" stroke="#222" stroke-width="0.1">CD388 (1 mg/kg)</text>
<path d="M614.5 825.5H621.9" stroke="#6a9aa0" stroke-width="0.85"/>
<path d="M618.2 824L619.55 826.4L616.85 826.4Z" fill="#578d94"/>
<text x="625" y="827.7" font-size="6.3" text-anchor="start" fill="#222" textLength="48.16" lengthAdjust="spacingAndGlyphs" stroke="#222" stroke-width="0.1">CD388 (0.3 mg/kg)</text>
<path d="M614.5 835.6H621.9" stroke="#74a2a8" stroke-width="0.85"/>
<circle cx="618.2" cy="835.6" r="1.5" fill="#fff" fill-opacity="0.6" stroke="#5f9299" stroke-width="0.85"/>
<text x="625" y="837.8" font-size="6.3" text-anchor="start" fill="#222" textLength="48.16" lengthAdjust="spacingAndGlyphs" stroke="#222" stroke-width="0.1">CD388 (0.1 mg/kg)</text>
<path d="M614.5 845.4H621.9" stroke="#7ea9ae" stroke-width="0.85"/>
<rect x="616.75" y="843.95" width="2.9" height="2.9" fill="#fff" fill-opacity="0.6" stroke="#6a9aa0" stroke-width="0.85"/>
<text x="625" y="847.6" font-size="6.3" text-anchor="start" fill="#222" textLength="51.32" lengthAdjust="spacingAndGlyphs" stroke="#222" stroke-width="0.1">CD388 (0.03 mg/kg)</text>
</svg></div>
</body></html>
